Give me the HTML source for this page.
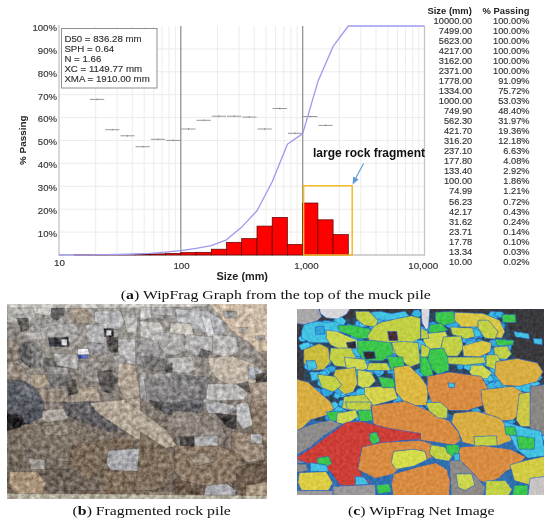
<!DOCTYPE html>
<html><head><meta charset="utf-8"><style>
html,body{margin:0;padding:0;background:#fff;}
svg{display:block;}
.st{font-family:"Liberation Sans",sans-serif;font-size:9.7px;fill:#333;stroke:#333;stroke-width:0.15px;}
.ax{font-family:"Liberation Sans",sans-serif;font-size:9.8px;fill:#333;stroke:#333;stroke-width:0.15px;}
.axy{font-family:"Liberation Sans",sans-serif;font-size:9.6px;fill:#333;stroke:#333;stroke-width:0.15px;}
.axb2{font-family:"Liberation Sans",sans-serif;font-size:10.2px;font-weight:bold;fill:#222;}
.axb{font-family:"Liberation Sans",sans-serif;font-size:9.4px;font-weight:bold;fill:#222;}
.tb{font-family:"Liberation Sans",sans-serif;font-size:9.6px;fill:#333;stroke:#333;stroke-width:0.15px;}
.ann{font-family:"Liberation Sans",sans-serif;font-size:12px;font-weight:bold;fill:#111;}
.cap{font-family:"Liberation Serif",serif;font-size:13px;fill:#111;}
</style></head><body>
<svg width="550" height="523" viewBox="0 0 550 523">
<rect width="550" height="523" fill="#fff"/>
<path d="M95.7 26V255.0 M117.1 26V255.0 M132.3 26V255.0 M144.2 26V255.0 M153.8 26V255.0 M162.0 26V255.0 M169.0 26V255.0 M175.3 26V255.0 M217.5 26V255.0 M239.0 26V255.0 M254.2 26V255.0 M266.0 26V255.0 M275.6 26V255.0 M283.8 26V255.0 M290.9 26V255.0 M297.1 26V255.0 M339.3 26V255.0 M360.8 26V255.0 M376.0 26V255.0 M387.8 26V255.0 M397.5 26V255.0 M405.6 26V255.0 M412.7 26V255.0 M418.9 26V255.0 M59.0 232.1H424.5 M59.0 209.2H424.5 M59.0 186.3H424.5 M59.0 163.4H424.5 M59.0 140.5H424.5 M59.0 117.6H424.5 M59.0 94.7H424.5 M59.0 71.8H424.5 M59.0 48.9H424.5" stroke="#ececec" stroke-width="1" fill="none"/>
<path d="M180.8 26V255.0 M302.7 26V255.0" stroke="#8a8a8a" stroke-width="1.2" fill="none"/>
<path d="M59.0 25V255.0H424.5V26" stroke="#c4c4c4" stroke-width="1.3" fill="none"/>
<g fill="#ff0000" stroke="#5a0000" stroke-width="0.7"><rect x="59.0" y="255.0" width="15.2" height="0.0"/><rect x="74.2" y="254.8" width="15.2" height="0.2"/><rect x="89.4" y="254.9" width="15.2" height="0.1"/><rect x="104.7" y="254.8" width="15.2" height="0.2"/><rect x="119.9" y="254.6" width="15.2" height="0.4"/><rect x="135.1" y="254.3" width="15.2" height="0.7"/><rect x="150.4" y="253.9" width="15.2" height="1.1"/><rect x="165.6" y="253.5" width="15.2" height="1.5"/><rect x="180.8" y="252.6" width="15.2" height="2.4"/><rect x="196.1" y="252.3" width="15.2" height="2.7"/><rect x="211.3" y="249.2" width="15.2" height="5.8"/><rect x="226.5" y="242.3" width="15.2" height="12.7"/><rect x="241.7" y="238.6" width="15.2" height="16.4"/><rect x="257.0" y="226.1" width="15.2" height="28.9"/><rect x="272.2" y="217.4" width="15.2" height="37.6"/><rect x="287.4" y="244.4" width="15.2" height="10.6"/><rect x="302.7" y="203.0" width="15.2" height="52.0"/><rect x="317.9" y="219.8" width="15.2" height="35.2"/><rect x="333.1" y="234.6" width="15.2" height="20.4"/></g>
<path d="M89.9 99.4H104.2M97.1 98.5V100.3M105.2 129.7H119.4M112.3 128.8V130.6M120.4 135.8H134.6M127.5 134.9V136.7M135.6 146.7H149.9M142.8 145.8V147.6M150.9 139.3H165.1M158.0 138.4V140.2M166.1 140.4H180.3M173.2 139.5V141.3M181.3 129.0H195.6M188.5 128.1V129.9M196.6 120.3H210.8M203.7 119.4V121.2M211.8 116.2H226.0M218.9 115.3V117.1M227.0 116.2H241.2M234.1 115.3V117.1M242.2 117.1H256.5M249.4 116.2V118.0M257.5 129.0H271.7M264.6 128.1V129.9M272.7 108.5H286.9M279.8 107.6V109.4M287.9 133.3H302.2M295.0 132.4V134.2M303.2 116.5H317.4M310.3 115.6V117.4M318.4 125.4H332.6M325.5 124.5V126.3" stroke="#8c8c8c" stroke-width="0.9" fill="none"/>
<path d="M59.0 255.0 L74.2 254.9 L89.4 254.8 L104.7 254.7 L119.9 254.5 L135.1 254.0 L150.4 253.4 L165.6 252.2 L180.8 250.7 L196.1 248.3 L211.3 245.7 L226.5 239.8 L241.7 227.1 L257.0 210.7 L272.2 181.8 L287.4 144.2 L302.7 133.6 L317.9 81.6 L333.1 46.4 L348.3 26.0 L363.6 26.0 L378.8 26.0 L394.0 26.0 L409.3 26.0 L424.5 26.0" stroke="#9f9aee" stroke-width="1.35" fill="none" stroke-linejoin="round"/>
<rect x="61.5" y="28.5" width="95.5" height="59.5" fill="#fff" stroke="#8f8f8f" stroke-width="1"/>
<text x="64.4" y="42.1" class="st">D50 = 836.28 mm</text>
<text x="64.4" y="52.0" class="st">SPH = 0.64</text>
<text x="64.4" y="62.0" class="st">N = 1.66</text>
<text x="64.4" y="72.0" class="st">XC = 1149.77 mm</text>
<text x="64.4" y="81.9" class="st">XMA = 1910.00 mm</text>
<text x="57.0" y="236.9" class="axy" text-anchor="end">10%</text>
<text x="57.0" y="214.0" class="axy" text-anchor="end">20%</text>
<text x="57.0" y="191.1" class="axy" text-anchor="end">30%</text>
<text x="57.0" y="168.2" class="axy" text-anchor="end">40%</text>
<text x="57.0" y="145.3" class="axy" text-anchor="end">50%</text>
<text x="57.0" y="122.4" class="axy" text-anchor="end">60%</text>
<text x="57.0" y="99.5" class="axy" text-anchor="end">70%</text>
<text x="57.0" y="76.6" class="axy" text-anchor="end">80%</text>
<text x="57.0" y="53.7" class="axy" text-anchor="end">90%</text>
<text x="57.0" y="31.2" class="axy" text-anchor="end">100%</text>
<text x="59.4" y="265.5" class="ax" text-anchor="middle">10</text>
<text x="181.6" y="269.2" class="ax" text-anchor="middle">100</text>
<text x="306.5" y="268.6" class="ax" text-anchor="middle">1,000</text>
<text x="423.2" y="268.6" class="ax" text-anchor="middle">10,000</text>
<text x="216.6" y="279.6" class="axb2" textLength="51.4" lengthAdjust="spacingAndGlyphs">Size (mm)</text>
<text transform="translate(25.6,140.2) rotate(-90)" class="axb2" text-anchor="middle" style="font-size:9.9px">% Passing</text>
<text x="471.8" y="13.8" class="axb" text-anchor="end">Size (mm)</text>
<text x="529.4" y="13.8" class="axb" text-anchor="end">% Passing</text>
<g class="tb" transform="translate(472.2,0) scale(0.965,1) translate(-472.2,0)"><text x="472.2" y="23.8" text-anchor="end">10000.00</text><text x="472.2" y="33.8" text-anchor="end">7499.00</text><text x="472.2" y="43.9" text-anchor="end">5623.00</text><text x="472.2" y="53.9" text-anchor="end">4217.00</text><text x="472.2" y="64.0" text-anchor="end">3162.00</text><text x="472.2" y="74.0" text-anchor="end">2371.00</text><text x="472.2" y="84.0" text-anchor="end">1778.00</text><text x="472.2" y="94.1" text-anchor="end">1334.00</text><text x="472.2" y="104.1" text-anchor="end">1000.00</text><text x="472.2" y="114.2" text-anchor="end">749.90</text><text x="472.2" y="124.2" text-anchor="end">562.30</text><text x="472.2" y="134.2" text-anchor="end">421.70</text><text x="472.2" y="144.3" text-anchor="end">316.20</text><text x="472.2" y="154.3" text-anchor="end">237.10</text><text x="472.2" y="164.4" text-anchor="end">177.80</text><text x="472.2" y="174.4" text-anchor="end">133.40</text><text x="472.2" y="184.4" text-anchor="end">100.00</text><text x="472.2" y="194.5" text-anchor="end">74.99</text><text x="472.2" y="204.5" text-anchor="end">56.23</text><text x="472.2" y="214.6" text-anchor="end">42.17</text><text x="472.2" y="224.6" text-anchor="end">31.62</text><text x="472.2" y="234.6" text-anchor="end">23.71</text><text x="472.2" y="244.7" text-anchor="end">17.78</text><text x="472.2" y="254.7" text-anchor="end">13.34</text><text x="472.2" y="264.8" text-anchor="end">10.00</text></g>
<g class="tb" transform="translate(529.6,0) scale(0.965,1) translate(-529.6,0)"><text x="529.6" y="23.8" text-anchor="end">100.00%</text><text x="529.6" y="33.8" text-anchor="end">100.00%</text><text x="529.6" y="43.9" text-anchor="end">100.00%</text><text x="529.6" y="53.9" text-anchor="end">100.00%</text><text x="529.6" y="64.0" text-anchor="end">100.00%</text><text x="529.6" y="74.0" text-anchor="end">100.00%</text><text x="529.6" y="84.0" text-anchor="end">91.09%</text><text x="529.6" y="94.1" text-anchor="end">75.72%</text><text x="529.6" y="104.1" text-anchor="end">53.03%</text><text x="529.6" y="114.2" text-anchor="end">48.40%</text><text x="529.6" y="124.2" text-anchor="end">31.97%</text><text x="529.6" y="134.2" text-anchor="end">19.36%</text><text x="529.6" y="144.3" text-anchor="end">12.18%</text><text x="529.6" y="154.3" text-anchor="end">6.63%</text><text x="529.6" y="164.4" text-anchor="end">4.08%</text><text x="529.6" y="174.4" text-anchor="end">2.92%</text><text x="529.6" y="184.4" text-anchor="end">1.86%</text><text x="529.6" y="194.5" text-anchor="end">1.21%</text><text x="529.6" y="204.5" text-anchor="end">0.72%</text><text x="529.6" y="214.6" text-anchor="end">0.43%</text><text x="529.6" y="224.6" text-anchor="end">0.24%</text><text x="529.6" y="234.6" text-anchor="end">0.14%</text><text x="529.6" y="244.7" text-anchor="end">0.10%</text><text x="529.6" y="254.7" text-anchor="end">0.03%</text><text x="529.6" y="264.8" text-anchor="end">0.02%</text></g>
<rect x="303.6" y="185.8" width="48.6" height="69.2" fill="none" stroke="#f2b92a" stroke-width="1.5"/>
<path d="M363.6 163.6 L355.5 178.5" stroke="#5b9bd5" stroke-width="1.1" fill="none"/>
<path d="M352.6 184.6 L353.2 176.6 L358.6 179.6 Z" fill="#5b9bd5"/>
<text x="313" y="156.6" class="ann">large rock fragment</text>
<text x="120.8" y="299.1" class="cap" textLength="310" lengthAdjust="spacingAndGlyphs">(<tspan font-weight="bold">a</tspan>) WipFrag Graph from the top of the muck pile</text>
<text x="72.6" y="514.5" class="cap" textLength="158.2" lengthAdjust="spacingAndGlyphs">(<tspan font-weight="bold">b</tspan>) Fragmented rock pile</text>
<text x="348.1" y="514.5" class="cap" textLength="146.4" lengthAdjust="spacingAndGlyphs">(<tspan font-weight="bold">c</tspan>) WipFrag Net Image</text>
<defs>
<filter id="texb" x="7" y="304" width="260" height="195" filterUnits="userSpaceOnUse" color-interpolation-filters="sRGB">
 <feTurbulence type="fractalNoise" baseFrequency="0.22" numOctaves="3" seed="4" result="t"/>
 <feColorMatrix in="t" type="matrix" values="1 0 0 0 0  1 0 0 0 0  1 0 0 0 0  0 0 0 0 1" result="g"/>
 <feGaussianBlur in="SourceGraphic" stdDeviation="0.6" result="b"/>
 <feComposite in="b" in2="g" operator="arithmetic" k1="0" k2="1" k3="0.5" k4="-0.25"/>
</filter>
<filter id="texc" x="297" y="309" width="247" height="186" filterUnits="userSpaceOnUse" color-interpolation-filters="sRGB">
 <feTurbulence type="fractalNoise" baseFrequency="0.3" numOctaves="2" seed="9" result="t"/>
 <feColorMatrix in="t" type="matrix" values="1 0 0 0 0  1 0 0 0 0  1 0 0 0 0  0 0 0 0 1" result="g"/>
 <feGaussianBlur in="SourceGraphic" stdDeviation="0.5" result="b"/>
 <feComposite in="b" in2="g" operator="arithmetic" k1="0" k2="1" k3="0.16" k4="-0.08"/>
</filter>
<clipPath id="cpb"><rect x="7" y="304" width="260" height="195"/></clipPath>
<clipPath id="cpc"><rect x="297" y="309" width="247" height="186"/></clipPath>
</defs><g clip-path="url(#cpb)"><g filter="url(#texb)"><g transform="translate(7,304) scale(0.47273,0.46988)"><defs><linearGradient id="bg_b" x1="0" y1="0" x2="0" y2="1"><stop offset="0" stop-color="#8e8a86"/><stop offset="0.45" stop-color="#827a72"/><stop offset="1" stop-color="#6e6258"/></linearGradient></defs><rect width="550" height="415" fill="url(#bg_b)"/><polygon points="-4,-4 50,-4 60,30 30,40 -4,30" fill="#a4a29e" stroke="#3c3834" stroke-width="1.6" stroke-opacity="0.35" stroke-linejoin="round"/><polygon points="50,-4 115,-4 110,20 85,25 60,20" fill="#c8c5c1" stroke="#3c3834" stroke-width="1.6" stroke-opacity="0.35" stroke-linejoin="round"/><polygon points="95,-4 125,-4 120,25 105,35 92,27" fill="#3e3c3c" stroke="#3c3834" stroke-width="1.6" stroke-opacity="0.35" stroke-linejoin="round"/><polygon points="130,5 165,10 185,30 175,45 145,40 130,25" fill="#8e8070" stroke="#3c3834" stroke-width="1.6" stroke-opacity="0.35" stroke-linejoin="round"/><polygon points="185,15 240,15 250,40 235,55 200,50 185,35" fill="#a8a8aa" stroke="#3c3834" stroke-width="1.6" stroke-opacity="0.35" stroke-linejoin="round"/><polygon points="245,25 276.4,30 273.7,65 255,60" fill="#b6b4b2" stroke="#3c3834" stroke-width="1.6" stroke-opacity="0.35" stroke-linejoin="round"/><polygon points="-4,40 30,45 40,70 20,80 -4,75" fill="#7e7a74" stroke="#3c3834" stroke-width="1.6" stroke-opacity="0.35" stroke-linejoin="round"/><polygon points="20,30 45,30 47,55 30,60" fill="#4a4644" stroke="#3c3834" stroke-width="1.6" stroke-opacity="0.35" stroke-linejoin="round"/><polygon points="50,35 95,30 115,45 105,65 70,65 50,55" fill="#8e8c8a" stroke="#3c3834" stroke-width="1.6" stroke-opacity="0.35" stroke-linejoin="round"/><polygon points="40,60 70,60 75,75 45,77" fill="#b0aca8" stroke="#3c3834" stroke-width="1.6" stroke-opacity="0.35" stroke-linejoin="round"/><polygon points="70,50 140,40 155,60 145,80 100,85 75,75" fill="#9c9a98" stroke="#3c3834" stroke-width="1.6" stroke-opacity="0.35" stroke-linejoin="round"/><polygon points="165,45 210,40 220,75 200,85 170,80" fill="#a6a6a8" stroke="#3c3834" stroke-width="1.6" stroke-opacity="0.35" stroke-linejoin="round"/><polygon points="210,70 235,70 240,100 220,105 212,90" fill="#3a3634" stroke="#3c3834" stroke-width="1.6" stroke-opacity="0.35" stroke-linejoin="round"/><polygon points="170,82 210,85 215,105 190,110 172,100" fill="#8c8a8c" stroke="#3c3834" stroke-width="1.6" stroke-opacity="0.35" stroke-linejoin="round"/><polygon points="235,75 271.7,75 271.7,130 250,125 235,105" fill="#b0aeae" stroke="#3c3834" stroke-width="1.6" stroke-opacity="0.35" stroke-linejoin="round"/><polygon points="225,110 250,110 255,130 230,135" fill="#9a9898" stroke="#3c3834" stroke-width="1.6" stroke-opacity="0.35" stroke-linejoin="round"/><polygon points="-4,75 30,80 25,120 -4,125" fill="#7a6e62" stroke="#3c3834" stroke-width="1.6" stroke-opacity="0.35" stroke-linejoin="round"/><polygon points="30,82 60,80 75,100 70,135 50,137 30,120 25,100" fill="#767472" stroke="#3c3834" stroke-width="1.6" stroke-opacity="0.35" stroke-linejoin="round"/><polygon points="30,82 48,81 52,110 50,137 30,120 25,100" fill="#4e4c4c" stroke="#3c3834" stroke-width="1.6" stroke-opacity="0.35" stroke-linejoin="round"/><polygon points="100,105 145,107 160,130 150,140 110,132 97,120" fill="#a4a2a0" stroke="#3c3834" stroke-width="1.6" stroke-opacity="0.35" stroke-linejoin="round"/><polygon points="75,115 100,115 105,140 80,145" fill="#5a5654" stroke="#3c3834" stroke-width="1.6" stroke-opacity="0.35" stroke-linejoin="round"/><polygon points="150,120 210,125 225,150 205,170 170,165 150,145" fill="#8a8480" stroke="#3c3834" stroke-width="1.6" stroke-opacity="0.35" stroke-linejoin="round"/><polygon points="190,145 220,140 235,165 220,190 200,185" fill="#4e4a48" stroke="#3c3834" stroke-width="1.6" stroke-opacity="0.35" stroke-linejoin="round"/><polygon points="235,125 271.7,130 281.8,199.4 250,205.2 235,175" fill="#a89a8a" stroke="#3c3834" stroke-width="1.6" stroke-opacity="0.35" stroke-linejoin="round"/><polygon points="-4,125 30,130 50,150 40,165 10,170 -4,160" fill="#8a7e70" stroke="#3c3834" stroke-width="1.6" stroke-opacity="0.35" stroke-linejoin="round"/><polygon points="85,130 130,135 140,165 125,185 95,180 85,155" fill="#6e6a6a" stroke="#3c3834" stroke-width="1.6" stroke-opacity="0.35" stroke-linejoin="round"/><polygon points="88,132 128,136 132,150 90,150" fill="#8a8686" stroke="#3c3834" stroke-width="1.6" stroke-opacity="0.35" stroke-linejoin="round"/><polygon points="50,150 80,150 90,170 65,180 50,170" fill="#a89882" stroke="#3c3834" stroke-width="1.6" stroke-opacity="0.35" stroke-linejoin="round"/><polygon points="-4,160 30,165 55,190 55,208.4 -4,212.4" fill="#5a5a5e" stroke="#3c3834" stroke-width="1.6" stroke-opacity="0.35" stroke-linejoin="round"/><polygon points="55,180 120,180 135,209.3 55,208.4" fill="#8e8274" stroke="#3c3834" stroke-width="1.6" stroke-opacity="0.35" stroke-linejoin="round"/><polygon points="135,180 190,175 200,207.5 135,209.3" fill="#a09282" stroke="#3c3834" stroke-width="1.6" stroke-opacity="0.35" stroke-linejoin="round"/><polygon points="125,165 145,160 150,190 130,195" fill="#4a4440" stroke="#3c3834" stroke-width="1.6" stroke-opacity="0.35" stroke-linejoin="round"/><polygon points="87,72 130,70 132,92 90,90" fill="#24242c" stroke="#3c3834" stroke-width="1.6" stroke-opacity="0.35" stroke-linejoin="round"/><polygon points="115,75 127,75 127,88 115,88" fill="#dcdce2" stroke="#3c3834" stroke-width="1.6" stroke-opacity="0.35" stroke-linejoin="round"/><polygon points="205,52 225,52 226,70 206,70" fill="#1e1e26" stroke="#3c3834" stroke-width="1.6" stroke-opacity="0.35" stroke-linejoin="round"/><polygon points="210,56 221,56 221,67 210,67" fill="#dcdce2" stroke="#3c3834" stroke-width="1.6" stroke-opacity="0.35" stroke-linejoin="round"/><polygon points="150,95 172,95 174,107 150,109" fill="#eeeff4" stroke="#3c3834" stroke-width="1.6" stroke-opacity="0.35" stroke-linejoin="round"/><polygon points="150,108 172,108 170,116 152,116" fill="#2c40a0" stroke="#3c3834" stroke-width="1.6" stroke-opacity="0.35" stroke-linejoin="round"/><polygon points="281.7,-4 305,-4 305,30 281.5,35" fill="#b8b6b4" stroke="#3c3834" stroke-width="1.6" stroke-opacity="0.35" stroke-linejoin="round"/><polygon points="425,-4 554,-4 554,115 535,105 510,80 485,65 465,45 450,25" fill="#c2ae96" stroke="#3c3834" stroke-width="1.6" stroke-opacity="0.35" stroke-linejoin="round"/><polygon points="457,15 485,15 487,30 460,30" fill="#8a8888" stroke="#3c3834" stroke-width="1.6" stroke-opacity="0.35" stroke-linejoin="round"/><polygon points="490,50 510,50 510,62 492,62" fill="#a09890" stroke="#3c3834" stroke-width="1.6" stroke-opacity="0.35" stroke-linejoin="round"/><polygon points="525,67 545,67 545,77 527,77" fill="#9a9490" stroke="#3c3834" stroke-width="1.6" stroke-opacity="0.35" stroke-linejoin="round"/><polygon points="305,5 350,7 352,30 325,35 305,25" fill="#a6a4a4" stroke="#3c3834" stroke-width="1.6" stroke-opacity="0.35" stroke-linejoin="round"/><polygon points="305,22 352,25 325,35" fill="#7a7878" stroke="#3c3834" stroke-width="1.6" stroke-opacity="0.35" stroke-linejoin="round"/><polygon points="355,10 425,15 455,35 460,60 440,70 415,60 385,50 360,35" fill="#a8aaae" stroke="#3c3834" stroke-width="1.6" stroke-opacity="0.35" stroke-linejoin="round"/><polygon points="410,25 430,30 440,70 425,70" fill="#d0d0d4" stroke="#3c3834" stroke-width="1.6" stroke-opacity="0.35" stroke-linejoin="round"/><polygon points="281.5,35 325,40 335,65 315,85 285,85 282.1,70" fill="#b4b2ae" stroke="#3c3834" stroke-width="1.6" stroke-opacity="0.35" stroke-linejoin="round"/><polygon points="345,40 390,42 395,65 365,70 345,60" fill="#c4beb4" stroke="#3c3834" stroke-width="1.6" stroke-opacity="0.35" stroke-linejoin="round"/><polygon points="325,60 375,65 380,100 355,110 330,105 320,85" fill="#a09e9c" stroke="#3c3834" stroke-width="1.6" stroke-opacity="0.35" stroke-linejoin="round"/><polygon points="380,65 435,70 435,100 415,110 385,107 375,90" fill="#a8a6a6" stroke="#3c3834" stroke-width="1.6" stroke-opacity="0.35" stroke-linejoin="round"/><polygon points="410,95 430,100 425,115 405,112" fill="#4a4848" stroke="#3c3834" stroke-width="1.6" stroke-opacity="0.35" stroke-linejoin="round"/><polygon points="435,65 485,70 490,100 465,115 435,105" fill="#b0aeac" stroke="#3c3834" stroke-width="1.6" stroke-opacity="0.35" stroke-linejoin="round"/><polygon points="425,115 475,110 515,125 540,140 540,160 515,170 475,175 445,160 430,140" fill="#b8ac9c" stroke="#3c3834" stroke-width="1.6" stroke-opacity="0.35" stroke-linejoin="round"/><polygon points="510,130 540,140 535,160 510,160" fill="#a0a4aa" stroke="#3c3834" stroke-width="1.6" stroke-opacity="0.35" stroke-linejoin="round"/><polygon points="525,150 554,145 554,180 530,185" fill="#3e3a38" stroke="#3c3834" stroke-width="1.6" stroke-opacity="0.35" stroke-linejoin="round"/><polygon points="540,100 554,100 554,145 540,140" fill="#8a7a6a" stroke="#3c3834" stroke-width="1.6" stroke-opacity="0.35" stroke-linejoin="round"/><polygon points="282.1,70 305,75 335,105 340,140 315,145 290,135 272.5,125" fill="#8e8c8c" stroke="#3c3834" stroke-width="1.6" stroke-opacity="0.35" stroke-linejoin="round"/><polygon points="280,110 330,115 340,140 315,145 290,135" fill="#6a6866" stroke="#3c3834" stroke-width="1.6" stroke-opacity="0.35" stroke-linejoin="round"/><polygon points="340,115 390,112 400,140 375,150 345,145" fill="#b0aeac" stroke="#3c3834" stroke-width="1.6" stroke-opacity="0.35" stroke-linejoin="round"/><polygon points="335,130 350,125 350,150 337,150" fill="#4a4646" stroke="#3c3834" stroke-width="1.6" stroke-opacity="0.35" stroke-linejoin="round"/><polygon points="278.9,140 300,150 305,212.0 281.8,199.4" fill="#9a9898" stroke="#3c3834" stroke-width="1.6" stroke-opacity="0.35" stroke-linejoin="round"/><polygon points="295,150 355,145 400,150 425,165 425,210.5 295,206.7" fill="#8e8a88" stroke="#3c3834" stroke-width="1.6" stroke-opacity="0.35" stroke-linejoin="round"/><polygon points="350,150 425,155 425,210.5 355,209.0" fill="#6e6c6e" stroke="#3c3834" stroke-width="1.6" stroke-opacity="0.35" stroke-linejoin="round"/><polygon points="425,170 485,170 510,190 500,203.6 420,207.2" fill="#b4b2b0" stroke="#3c3834" stroke-width="1.6" stroke-opacity="0.35" stroke-linejoin="round"/><polygon points="510,170 554,165 554,201.7 510,210.3" fill="#a09080" stroke="#3c3834" stroke-width="1.6" stroke-opacity="0.35" stroke-linejoin="round"/><polygon points="485,170 510,165 515,190" fill="#4a4440" stroke="#3c3834" stroke-width="1.6" stroke-opacity="0.35" stroke-linejoin="round"/><polygon points="-4,160 35,163 65,185 80,215 75,240 45,255 -4,262" fill="#50535a" stroke="#3c3834" stroke-width="1.6" stroke-opacity="0.35" stroke-linejoin="round"/><polygon points="20,175 40,172 60,190 50,200" fill="#6a6e76" stroke="#3c3834" stroke-width="1.6" stroke-opacity="0.35" stroke-linejoin="round"/><polygon points="-4,232 30,237 40,257 15,272 -4,272" fill="#201e20" stroke="#3c3834" stroke-width="1.6" stroke-opacity="0.35" stroke-linejoin="round"/><polygon points="75,227 125,222 130,242 100,257 75,247" fill="#a8a29a" stroke="#3c3834" stroke-width="1.6" stroke-opacity="0.35" stroke-linejoin="round"/><polygon points="190,208.1 281.8,199.4 282.4,272 240,267 210,232" fill="#a09484" stroke="#3c3834" stroke-width="1.6" stroke-opacity="0.35" stroke-linejoin="round"/><polygon points="115,208.6 190,208.1 235,237 250,267 215,272 165,252 125,237" fill="#5e5c5e" stroke="#3c3834" stroke-width="1.6" stroke-opacity="0.35" stroke-linejoin="round"/><polygon points="-4,272 30,262 40,307 30,337 -4,342" fill="#7a7064" stroke="#3c3834" stroke-width="1.6" stroke-opacity="0.35" stroke-linejoin="round"/><polygon points="30,257 125,247 165,262 200,282 210,307 165,317 140,337 100,332 60,317 30,297" fill="#7e7468" stroke="#3c3834" stroke-width="1.6" stroke-opacity="0.35" stroke-linejoin="round"/><polygon points="70,262 120,255 150,268 120,280 80,278" fill="#8e8678" stroke="#3c3834" stroke-width="1.6" stroke-opacity="0.35" stroke-linejoin="round"/><polygon points="140,297 225,287 265.5,282 270.1,312 215,317 200,357 165,377 140,367 130,342" fill="#7c6c5c" stroke="#3c3834" stroke-width="1.6" stroke-opacity="0.35" stroke-linejoin="round"/><polygon points="215,312 280.9,307 284.5,357 220,357 210,337" fill="#a8a8ac" stroke="#3c3834" stroke-width="1.6" stroke-opacity="0.35" stroke-linejoin="round"/><polygon points="200,352 284.5,357 268.4,419 210,419 200,382" fill="#7e6c5a" stroke="#3c3834" stroke-width="1.6" stroke-opacity="0.35" stroke-linejoin="round"/><polygon points="45,327 80,332 80,352 50,352" fill="#9e9a94" stroke="#3c3834" stroke-width="1.6" stroke-opacity="0.35" stroke-linejoin="round"/><polygon points="65,352 150,352 165,377 150,397 100,397 75,377" fill="#6e645a" stroke="#3c3834" stroke-width="1.6" stroke-opacity="0.35" stroke-linejoin="round"/><polygon points="-4,337 20,337 20,407 -4,407" fill="#6e665c" stroke="#3c3834" stroke-width="1.6" stroke-opacity="0.35" stroke-linejoin="round"/><polygon points="5,357 65,357 82,382 75,405 20,405 5,387" fill="#a8927a" stroke="#3c3834" stroke-width="1.6" stroke-opacity="0.35" stroke-linejoin="round"/><polygon points="150,397 210,397 210,419 150,419" fill="#7a6a5c" stroke="#3c3834" stroke-width="1.6" stroke-opacity="0.35" stroke-linejoin="round"/><polygon points="290,160 408,160 408,221 360,232 317,226 296,204" fill="#7c7a7a" stroke="#3c3834" stroke-width="1.6" stroke-opacity="0.35" stroke-linejoin="round"/><polygon points="300,205 360,215 400,212 360,232 317,226" fill="#4e4a48" stroke="#3c3834" stroke-width="1.6" stroke-opacity="0.35" stroke-linejoin="round"/><polygon points="343,228 408,221 408,298 366,291 349,270" fill="#8a8886" stroke="#3c3834" stroke-width="1.6" stroke-opacity="0.35" stroke-linejoin="round"/><polygon points="176,211 246,204 290,232 338,270 360,302 328,308 273,286 247,270 192,232" fill="#b0a494" stroke="#3c3834" stroke-width="1.6" stroke-opacity="0.35" stroke-linejoin="round"/><polygon points="325,212.4 415,201.7 415,227 375,242 330,232" fill="#5a5a5e" stroke="#3c3834" stroke-width="1.6" stroke-opacity="0.35" stroke-linejoin="round"/><polygon points="415,201.7 475,214.4 490,222 465,237 425,232" fill="#a8a8aa" stroke="#3c3834" stroke-width="1.6" stroke-opacity="0.35" stroke-linejoin="round"/><polygon points="515,207.8 554,201.7 554,307 520,282" fill="#8a7868" stroke="#3c3834" stroke-width="1.6" stroke-opacity="0.35" stroke-linejoin="round"/><polygon points="485,212 510,210.3 520,257 500,267 485,247" fill="#b8b8ba" stroke="#3c3834" stroke-width="1.6" stroke-opacity="0.35" stroke-linejoin="round"/><polygon points="440,232 485,237 485,267 465,262" fill="#3e3a3a" stroke="#3c3834" stroke-width="1.6" stroke-opacity="0.35" stroke-linejoin="round"/><polygon points="355,227 415,232 455,257 465,287 445,307 400,307 365,302 350,272 340,247" fill="#8c847c" stroke="#3c3834" stroke-width="1.6" stroke-opacity="0.35" stroke-linejoin="round"/><polygon points="395,282 445,280 447,305 397,307" fill="#acacac" stroke="#3c3834" stroke-width="1.6" stroke-opacity="0.35" stroke-linejoin="round"/><polygon points="365,282 395,282 397,307 367,307" fill="#4a4646" stroke="#3c3834" stroke-width="1.6" stroke-opacity="0.35" stroke-linejoin="round"/><polygon points="475,272 540,277 545,332 505,337 475,307" fill="#9a8878" stroke="#3c3834" stroke-width="1.6" stroke-opacity="0.35" stroke-linejoin="round"/><polygon points="515,277 540,277 540,297 515,297" fill="#b0b0b2" stroke="#3c3834" stroke-width="1.6" stroke-opacity="0.35" stroke-linejoin="round"/><polygon points="282.4,272 335,307 365,327 355,357 340,387 305,397 272.3,397" fill="#7e6e5e" stroke="#3c3834" stroke-width="1.6" stroke-opacity="0.35" stroke-linejoin="round"/><polygon points="355,302 450,302 495,322 500,357 475,387 425,392 375,382 355,357" fill="#8a7866" stroke="#3c3834" stroke-width="1.6" stroke-opacity="0.35" stroke-linejoin="round"/><polygon points="380,320 430,315 440,335 400,345" fill="#96887a" stroke="#3c3834" stroke-width="1.6" stroke-opacity="0.35" stroke-linejoin="round"/><polygon points="485,347 554,332 554,419 495,419 485,382" fill="#6e5e50" stroke="#3c3834" stroke-width="1.6" stroke-opacity="0.35" stroke-linejoin="round"/><polygon points="505,385 554,378 554,419 505,419" fill="#a89882" stroke="#3c3834" stroke-width="1.6" stroke-opacity="0.35" stroke-linejoin="round"/><polygon points="355,372 420,387 420,419 355,419" fill="#6a5a4c" stroke="#3c3834" stroke-width="1.6" stroke-opacity="0.35" stroke-linejoin="round"/><polygon points="420,387 465,382 485,397 480,419 415,419" fill="#a8a8ac" stroke="#3c3834" stroke-width="1.6" stroke-opacity="0.35" stroke-linejoin="round"/><polygon points="272.3,397 355,400 355,419 268.4,419" fill="#8a7c6c" stroke="#3c3834" stroke-width="1.6" stroke-opacity="0.35" stroke-linejoin="round"/><polygon points="-4,403 280.4,405 554,408 554,419 -4,419" fill="#b6ae9e" stroke="#3c3834" stroke-width="1.6" stroke-opacity="0.35" stroke-linejoin="round"/><polygon points="-4,-4 430,-4 420,6 200,9 -4,8" fill="#c2beb8" stroke="#3c3834" stroke-width="1.6" stroke-opacity="0.35" stroke-linejoin="round"/><defs><linearGradient id="ov_b" x1="0" y1="0" x2="0" y2="1"><stop offset="0" stop-color="#fff" stop-opacity="0.16"/><stop offset="0.5" stop-color="#fff" stop-opacity="0.06"/><stop offset="0.62" stop-color="#fff" stop-opacity="0"/></linearGradient></defs><rect x="-5" y="-5" width="560" height="425" fill="url(#ov_b)"/></g></g></g>
<g clip-path="url(#cpc)"><g filter="url(#texc)"><g transform="translate(297,309) scale(0.44909,0.44928)"><polygon points="-4,-4 554,-4 554,419 -4,419" fill="#3a393e"/><polygon points="20,200 200,190 460,200 554,260 554,419 -4,419 -4,280" fill="#2f6fae"/><polygon points="12,30 120,20 240,8 460,10 478,60 485,108 530,118 554,175 554,330 500,335 460,250 300,230 160,240 100,250 40,250 15,160 12,60" fill="#30485a"/><polygon points="234.4,193.0 240.5,181.6 253.5,177.4 260.1,188.0 256.6,200.4 244.0,198.8" fill="#44c8e4" stroke="#2a62c8" stroke-width="1.4" stroke-linejoin="round"/><polygon points="535.8,230.9 526.3,229.9 519.7,222.8 523.8,214.2 537.3,213.2 544.2,221.7" fill="#3cc2e0" stroke="#2a62c8" stroke-width="1.4" stroke-linejoin="round"/><polygon points="269.4,94.2 258.7,103.4 245.2,102.9 234.2,94.9 242.1,84.9 260.4,81.9" fill="#3cc2e0" stroke="#2a62c8" stroke-width="1.4" stroke-linejoin="round"/><polygon points="16.8,132.0 16.4,122.7 29.0,119.8 39.8,121.4 38.0,133.7 28.6,138.1" fill="#44c8e4" stroke="#2a62c8" stroke-width="1.4" stroke-linejoin="round"/><polygon points="102.4,197.1 90.0,195.9 86.8,189.0 94.0,179.5 106.0,183.7 111.4,191.3" fill="#44c8e4" stroke="#2a62c8" stroke-width="1.4" stroke-linejoin="round"/><polygon points="554,207.2 554,214.8 537.4,211.3 538.4,202.5 544.3,197.6 554,197.2" fill="#36b6de" stroke="#2a62c8" stroke-width="1.4" stroke-linejoin="round"/><polygon points="534.4,158.4 542.2,166.8 530.9,172.3 518.3,173.6 517.3,162.0 522.8,154.6" fill="#44c8e4" stroke="#2a62c8" stroke-width="1.4" stroke-linejoin="round"/><polygon points="25.6,46.1 16.0,42.6 16.0,32.0 26.5,25.1 34.5,32.6 37.1,42.4" fill="#3cc2e0" stroke="#2a62c8" stroke-width="1.4" stroke-linejoin="round"/><polygon points="151.8,158.2 144.1,157.1 137.3,151.0 143.7,144.5 153.2,146.7 154.8,151.8" fill="#2ea6da" stroke="#2a62c8" stroke-width="1.4" stroke-linejoin="round"/><polygon points="53.6,178.7 55.6,191.0 42.7,197.4 28.2,193.3 29.6,180.7 39.7,174.6" fill="#3ab0dc" stroke="#2a62c8" stroke-width="1.4" stroke-linejoin="round"/><polygon points="370.3,131.3 364.8,135.5 357.7,133.7 355.7,126.0 363.6,121.9 371.5,125.0" fill="#2ea6da" stroke="#2a62c8" stroke-width="1.4" stroke-linejoin="round"/><polygon points="327.5,155.4 338.8,158.2 338.1,164.9 334.3,170.0 325.2,170.9 320.0,162.0" fill="#36b6de" stroke="#2a62c8" stroke-width="1.4" stroke-linejoin="round"/><polygon points="169.4,230.5 170.1,222.2 180.7,219.3 187.1,223.1 189.4,231.8 178.9,236.1" fill="#2ea6da" stroke="#2a62c8" stroke-width="1.4" stroke-linejoin="round"/><polygon points="464.3,34.4 461.9,43.9 451.3,49.4 440.9,42.2 440.5,33.9 452.7,28.2" fill="#2ea6da" stroke="#2a62c8" stroke-width="1.4" stroke-linejoin="round"/><polygon points="324.9,106.4 317.9,117.0 306.7,112.2 303.4,103.7 308.5,94.2 322.8,94.8" fill="#3cc2e0" stroke="#2a62c8" stroke-width="1.4" stroke-linejoin="round"/><polygon points="380.2,76.1 369.1,74.2 366.2,67.1 370.8,59.3 383.4,59.0 387.5,68.6" fill="#36b6de" stroke="#2a62c8" stroke-width="1.4" stroke-linejoin="round"/><polygon points="387.4,38.0 400.4,33.5 410.2,41.2 405.3,51.2 394.8,54.2 384.3,46.8" fill="#3cc2e0" stroke="#2a62c8" stroke-width="1.4" stroke-linejoin="round"/><polygon points="462.0,121.5 463.6,115.1 472.3,112.9 480.5,116.3 477.2,123.7 469.6,124.4" fill="#3ab0dc" stroke="#2a62c8" stroke-width="1.4" stroke-linejoin="round"/><polygon points="480.7,180.2 484.1,168.8 497.1,165.5 509.6,172.2 503.8,182.7 493.0,185.2" fill="#44c8e4" stroke="#2a62c8" stroke-width="1.4" stroke-linejoin="round"/><polygon points="521.7,305.5 514.2,297.7 517.3,289.7 528.2,286.9 537.8,294.4 535.1,303.7" fill="#3ab0dc" stroke="#2a62c8" stroke-width="1.4" stroke-linejoin="round"/><polygon points="75.6,27.7 76.2,35.9 66.4,39.4 59.1,35.7 57.3,26.3 67.9,25.6" fill="#44c8e4" stroke="#2a62c8" stroke-width="1.4" stroke-linejoin="round"/><polygon points="9.0,59.1 19.0,60.9 23.7,66.8 16.5,72.4 7.4,72.5 2.9,65.1" fill="#44c8e4" stroke="#2a62c8" stroke-width="1.4" stroke-linejoin="round"/><polygon points="461.9,203.1 464.0,211.2 458.0,216.8 444.2,217.2 442.9,207.9 449.6,198.3" fill="#36b6de" stroke="#2a62c8" stroke-width="1.4" stroke-linejoin="round"/><polygon points="128.4,37.3 131.4,26.5 143.0,23.5 156.3,26.5 157.7,37.7 142.3,45.8" fill="#3ab0dc" stroke="#2a62c8" stroke-width="1.4" stroke-linejoin="round"/><polygon points="442.2,155.5 449.3,161.4 447.3,167.1 441.1,170.1 433.0,167.1 435.7,159.6" fill="#3cc2e0" stroke="#2a62c8" stroke-width="1.4" stroke-linejoin="round"/><polygon points="409.4,110.2 417.0,101.7 428.6,104.8 431.9,112.1 425.2,118.2 415.1,118.8" fill="#3cc2e0" stroke="#2a62c8" stroke-width="1.4" stroke-linejoin="round"/><polygon points="190.2,19.0 192.2,31.3 181.9,38.9 166.7,35.9 167.1,25.5 175.0,15.4" fill="#36b6de" stroke="#2a62c8" stroke-width="1.4" stroke-linejoin="round"/><polygon points="494.7,289.2 506.5,295.8 502.9,305.2 492.1,308.8 480.2,303.7 483.9,291.5" fill="#2ea6da" stroke="#2a62c8" stroke-width="1.4" stroke-linejoin="round"/><polygon points="174.4,221.8 181.7,214.0 195.1,215.1 194.8,226.4 190.2,232.5 178.0,229.9" fill="#36b6de" stroke="#2a62c8" stroke-width="1.4" stroke-linejoin="round"/><polygon points="132.2,91.5 138.8,87.2 149.6,87.1 153.0,96.1 145.8,101.6 132.9,99.6" fill="#36b6de" stroke="#2a62c8" stroke-width="1.4" stroke-linejoin="round"/><polygon points="459.3,188.1 460.9,179.1 471.6,174.4 480.5,179.0 481.8,190.7 469.9,195.7" fill="#3ab0dc" stroke="#2a62c8" stroke-width="1.4" stroke-linejoin="round"/><polygon points="10.9,61.1 13.8,48.5 20.7,44.9 36.2,46.6 36.1,57.9 25.5,64.1" fill="#44c8e4" stroke="#2a62c8" stroke-width="1.4" stroke-linejoin="round"/><polygon points="128.7,244.4 127.7,237.3 134.9,234.4 142.2,236.4 143.1,244.1 134.9,248.2" fill="#36b6de" stroke="#2a62c8" stroke-width="1.4" stroke-linejoin="round"/><polygon points="533.2,255.8 521.9,257.0 515.5,252.6 516.0,244.1 526.0,240.6 532.0,247.3" fill="#36b6de" stroke="#2a62c8" stroke-width="1.4" stroke-linejoin="round"/><polygon points="27.0,85.6 35.6,85.2 45.4,89.6 42.2,98.0 30.7,99.6 23.4,94.9" fill="#3cc2e0" stroke="#2a62c8" stroke-width="1.4" stroke-linejoin="round"/><polygon points="449.6,142.8 457.1,152.4 446.7,160.1 432.6,162.1 428.8,151.8 433.4,143.9" fill="#2ea6da" stroke="#2a62c8" stroke-width="1.4" stroke-linejoin="round"/><polygon points="309.4,154.7 316.2,149.0 328.3,152.6 328.6,159.9 322.2,166.2 311.7,163.9" fill="#2ea6da" stroke="#2a62c8" stroke-width="1.4" stroke-linejoin="round"/><polygon points="154.1,41.7 165.1,42.9 168.0,52.5 157.7,56.9 145.7,53.5 146.4,45.6" fill="#3ab0dc" stroke="#2a62c8" stroke-width="1.4" stroke-linejoin="round"/><polygon points="129.8,129.2 127.5,121.3 132.4,114.5 145.0,116.1 145.5,124.8 141.0,130.3" fill="#3cc2e0" stroke="#2a62c8" stroke-width="1.4" stroke-linejoin="round"/><polygon points="91.8,94.5 95.1,100.9 90.9,106.1 83.5,105.9 80.8,100.2 84.1,93.4" fill="#44c8e4" stroke="#2a62c8" stroke-width="1.4" stroke-linejoin="round"/><polygon points="119.6,73.6 130.3,62.4 144.1,66.3 148.8,76.6 140.8,87.2 127.1,85.1" fill="#2ea6da" stroke="#2a62c8" stroke-width="1.4" stroke-linejoin="round"/><polygon points="523.3,208.8 535.0,212.2 539.9,220.9 529.6,225.4 519.6,224.2 516.4,214.5" fill="#3cc2e0" stroke="#2a62c8" stroke-width="1.4" stroke-linejoin="round"/><polygon points="181.1,48.3 179.7,59.3 167.3,62.7 155.4,59.4 153.3,47.4 166.4,41.5" fill="#2ea6da" stroke="#2a62c8" stroke-width="1.4" stroke-linejoin="round"/><polygon points="498.8,209.5 512.6,198.7 527.5,204.0 526.6,217.4 518.5,223.0 506.7,222.3" fill="#3ab0dc" stroke="#2a62c8" stroke-width="1.4" stroke-linejoin="round"/><polygon points="446.9,10.7 446.6,23.3 435.4,33.6 422.3,28.2 422.1,14.6 430.5,10.3" fill="#3ab0dc" stroke="#2a62c8" stroke-width="1.4" stroke-linejoin="round"/><polygon points="147.5,172.9 157.0,178.3 152.5,185.8 145.3,187.7 137.9,184.7 137.1,176.9" fill="#3ab0dc" stroke="#2a62c8" stroke-width="1.4" stroke-linejoin="round"/><polygon points="122.4,192.0 109.8,191.4 103.8,185.3 107.2,177.3 120.5,177.9 126.0,184.2" fill="#3cc2e0" stroke="#2a62c8" stroke-width="1.4" stroke-linejoin="round"/><polygon points="145.2,192.5 135.0,200.6 124.9,199.0 118.8,191.3 125.9,184.0 137.6,185.1" fill="#36b6de" stroke="#2a62c8" stroke-width="1.4" stroke-linejoin="round"/><polygon points="205.6,46.3 197.5,40.2 200.5,31.6 208.4,28.3 215.3,34.6 213.4,42.4" fill="#3cc2e0" stroke="#2a62c8" stroke-width="1.4" stroke-linejoin="round"/><polygon points="434.3,111.9 433.7,123.0 423.3,129.8 410.8,121.8 411.8,110.6 425.1,106.5" fill="#3ab0dc" stroke="#2a62c8" stroke-width="1.4" stroke-linejoin="round"/><polygon points="288.1,96.2 283.3,89.8 285.9,83.9 295.2,82.2 301.3,87.5 296.8,95.0" fill="#3ab0dc" stroke="#2a62c8" stroke-width="1.4" stroke-linejoin="round"/><polygon points="61.2,241.2 72.7,229.0 87.4,234.3 89.7,243.6 84.5,254.7 70.0,254.6" fill="#2ea6da" stroke="#2a62c8" stroke-width="1.4" stroke-linejoin="round"/><polygon points="144.9,196.7 133.0,205.3 122.4,198.4 117.5,190.8 129.6,184.6 142.3,188.1" fill="#36b6de" stroke="#2a62c8" stroke-width="1.4" stroke-linejoin="round"/><polygon points="109.4,188.1 105.6,193.7 96.7,192.2 92.1,184.9 99.0,178.3 106.5,181.7" fill="#44c8e4" stroke="#2a62c8" stroke-width="1.4" stroke-linejoin="round"/><polygon points="71.4,145.7 62.6,147.4 53.3,140.1 58.1,131.6 67.6,130.4 77.8,135.6" fill="#3ab0dc" stroke="#2a62c8" stroke-width="1.4" stroke-linejoin="round"/><polygon points="235.3,141.9 235.7,152.7 225.8,155.1 213.6,154.3 212.5,143.1 223.9,138.7" fill="#3ab0dc" stroke="#2a62c8" stroke-width="1.4" stroke-linejoin="round"/><polygon points="478.4,80.8 475.6,91.4 459.1,95.7 447.5,85.0 454.0,71.9 468.9,71.3" fill="#3ab0dc" stroke="#2a62c8" stroke-width="1.4" stroke-linejoin="round"/><polygon points="427.9,71.9 441.2,66.8 454.0,67.5 452.0,79.2 444.2,85.2 434.5,83.1" fill="#3ab0dc" stroke="#2a62c8" stroke-width="1.4" stroke-linejoin="round"/><polygon points="227.5,124.6 221.1,130.9 207.4,129.8 206.7,118.8 215.9,109.4 229.4,115.4" fill="#2ea6da" stroke="#2a62c8" stroke-width="1.4" stroke-linejoin="round"/><polygon points="319.9,178.5 314.7,187.5 305.4,188.2 298.7,184.3 301.0,174.6 310.2,173.7" fill="#36b6de" stroke="#2a62c8" stroke-width="1.4" stroke-linejoin="round"/><polygon points="126.4,113.1 113.4,113.7 110.6,102.3 117.5,93.9 130.2,97.2 138.8,106.5" fill="#2ea6da" stroke="#2a62c8" stroke-width="1.4" stroke-linejoin="round"/><polygon points="85.5,230.4 73.5,233.9 62.7,232.2 63.0,222.6 72.5,215.4 81.1,222.9" fill="#3ab0dc" stroke="#2a62c8" stroke-width="1.4" stroke-linejoin="round"/><polygon points="271.1,1.5 277.7,10.5 271.8,19.0 262.1,18.1 254.5,11.2 261.0,3.0" fill="#36b6de" stroke="#2a62c8" stroke-width="1.4" stroke-linejoin="round"/><polygon points="132.9,179.2 145.0,176.4 155.6,179.7 153.1,192.2 141.0,198.1 129.7,190.0" fill="#3cc2e0" stroke="#2a62c8" stroke-width="1.4" stroke-linejoin="round"/><polygon points="313.8,194.6 304.2,190.3 299.6,179.9 312.0,173.2 321.8,177.4 323.2,188.8" fill="#36b6de" stroke="#2a62c8" stroke-width="1.4" stroke-linejoin="round"/><polygon points="262.4,226.8 263.3,216.4 276.9,216.2 286.9,221.1 280.6,231.8 270.3,236.3" fill="#3cc2e0" stroke="#2a62c8" stroke-width="1.4" stroke-linejoin="round"/><polygon points="70.6,136.5 66.7,128.4 78.4,126.4 86.0,129.6 85.5,138.0 77.3,141.4" fill="#2ea6da" stroke="#2a62c8" stroke-width="1.4" stroke-linejoin="round"/><polygon points="526.1,322.4 515.3,321.2 508.4,314.3 514.0,308.3 526.0,305.2 529.0,313.6" fill="#3cc2e0" stroke="#2a62c8" stroke-width="1.4" stroke-linejoin="round"/><polygon points="110.8,116.1 116.7,110.6 125.0,113.0 130.2,120.7 121.0,124.6 111.7,122.2" fill="#2ea6da" stroke="#2a62c8" stroke-width="1.4" stroke-linejoin="round"/><polygon points="202.7,99.3 193.4,99.6 192.0,92.7 196.6,85.6 204.2,86.9 209.2,94.1" fill="#3cc2e0" stroke="#2a62c8" stroke-width="1.4" stroke-linejoin="round"/><polygon points="554,278.8 554,286.5 554,294.2 541.9,291.3 537.4,284.2 545.1,277.1" fill="#44c8e4" stroke="#2a62c8" stroke-width="1.4" stroke-linejoin="round"/><polygon points="298.2,57.7 289.5,50.2 289.4,39.7 300.0,36.3 313.3,42.2 309.0,51.6" fill="#36b6de" stroke="#2a62c8" stroke-width="1.4" stroke-linejoin="round"/><polygon points="411.6,156.7 416.9,160.6 418.3,167.7 410.4,172.0 403.7,167.6 404.7,159.7" fill="#3cc2e0" stroke="#2a62c8" stroke-width="1.4" stroke-linejoin="round"/><polygon points="210.6,27.4 206.7,20.7 210.0,14.2 221.5,13.7 224.6,20.1 221.5,26.6" fill="#3ab0dc" stroke="#2a62c8" stroke-width="1.4" stroke-linejoin="round"/><polygon points="491.6,315.4 489.2,307.5 498.3,304.2 507.0,304.8 509.2,312.8 503.4,318.8" fill="#44c8e4" stroke="#2a62c8" stroke-width="1.4" stroke-linejoin="round"/><polygon points="201.5,183.4 212.5,191.6 209.8,204.4 197.1,206.9 182.8,199.3 189.9,188.7" fill="#2ea6da" stroke="#2a62c8" stroke-width="1.4" stroke-linejoin="round"/><polygon points="266.2,157.1 273.3,153.9 282.1,157.5 277.3,165.2 270.9,168.7 266.0,163.9" fill="#2ea6da" stroke="#2a62c8" stroke-width="1.4" stroke-linejoin="round"/><polygon points="147.7,29.2 152.2,34.3 149.8,40.2 142.0,42.9 137.6,36.5 140.0,29.6" fill="#44c8e4" stroke="#2a62c8" stroke-width="1.4" stroke-linejoin="round"/><polygon points="135.1,90.9 125.8,90.3 121.9,84.1 126.6,77.3 137.2,77.7 139.2,85.4" fill="#44c8e4" stroke="#2a62c8" stroke-width="1.4" stroke-linejoin="round"/><polygon points="32.6,76.1 39.5,83.9 36.9,92.6 25.5,97.1 15.8,88.6 21.5,78.7" fill="#3ab0dc" stroke="#2a62c8" stroke-width="1.4" stroke-linejoin="round"/><polygon points="410.3,98.0 400.2,98.6 397.9,89.6 403.7,82.5 412.8,86.4 415.3,93.2" fill="#44c8e4" stroke="#2a62c8" stroke-width="1.4" stroke-linejoin="round"/><polygon points="293.8,173.9 288.7,165.5 291.1,156.4 303.4,156.5 310.4,162.8 306.4,169.8" fill="#36b6de" stroke="#2a62c8" stroke-width="1.4" stroke-linejoin="round"/><polygon points="468.8,182.6 475.3,192.1 462.1,199.1 448.6,196.3 447.8,186.3 455.2,177.5" fill="#36b6de" stroke="#2a62c8" stroke-width="1.4" stroke-linejoin="round"/><polygon points="157.9,27.4 163.3,20.4 173.9,18.4 179.3,26.0 176.1,33.5 165.9,33.0" fill="#2ea6da" stroke="#2a62c8" stroke-width="1.4" stroke-linejoin="round"/><polygon points="402.1,64.5 394.6,66.6 390.9,59.7 395.6,54.6 404.3,55.3 407.6,59.9" fill="#44c8e4" stroke="#2a62c8" stroke-width="1.4" stroke-linejoin="round"/><polygon points="522.7,144.7 510.8,141.3 511.9,131.8 522.7,124.4 533.4,131.1 533.3,141.4" fill="#2ea6da" stroke="#2a62c8" stroke-width="1.4" stroke-linejoin="round"/><polygon points="330.0,95.8 321.7,95.5 317.7,89.4 322.8,84.0 331.1,83.8 334.4,90.5" fill="#3ab0dc" stroke="#2a62c8" stroke-width="1.4" stroke-linejoin="round"/><polygon points="31.3,211.3 24.2,201.1 28.1,190.8 40.7,191.9 51.7,199.4 44.6,208.6" fill="#3cc2e0" stroke="#2a62c8" stroke-width="1.4" stroke-linejoin="round"/><polygon points="75.6,208.4 86.4,206.0 93.2,214.5 88.6,221.3 76.7,224.9 70.8,217.2" fill="#44c8e4" stroke="#2a62c8" stroke-width="1.4" stroke-linejoin="round"/><polygon points="452.0,167.8 457.2,162.2 467.0,165.7 468.3,172.5 463.1,178.3 453.4,177.2" fill="#36b6de" stroke="#2a62c8" stroke-width="1.4" stroke-linejoin="round"/><polygon points="259.8,68.9 276.6,69.2 287.8,78.6 280.1,89.7 265.2,91.7 256.4,80.9" fill="#44c8e4" stroke="#2a62c8" stroke-width="1.4" stroke-linejoin="round"/><polygon points="119.6,100.3 108.6,103.9 95.4,101.8 94.7,90.4 106.8,83.2 116.5,89.8" fill="#3cc2e0" stroke="#2a62c8" stroke-width="1.4" stroke-linejoin="round"/><polygon points="172.3,143.4 162.7,148.9 149.7,149.2 147.5,139.0 153.6,131.6 169.1,134.3" fill="#2ea6da" stroke="#2a62c8" stroke-width="1.4" stroke-linejoin="round"/><polygon points="523.1,230.2 512.9,228.1 511.8,222.0 518.0,215.6 526.6,219.7 527.7,225.6" fill="#2ea6da" stroke="#2a62c8" stroke-width="1.4" stroke-linejoin="round"/><polygon points="486.6,264.9 479.5,268.7 472.2,265.3 471.7,258.3 478.0,253.9 485.3,258.1" fill="#2ea6da" stroke="#2a62c8" stroke-width="1.4" stroke-linejoin="round"/><polygon points="360.1,84.3 348.3,83.3 346.1,74.8 352.5,68.9 365.0,71.5 368.8,78.1" fill="#2ea6da" stroke="#2a62c8" stroke-width="1.4" stroke-linejoin="round"/><polygon points="143.9,134.8 149.5,142.4 145.9,148.6 134.1,150.3 126.4,143.8 132.7,134.4" fill="#3cc2e0" stroke="#2a62c8" stroke-width="1.4" stroke-linejoin="round"/><polygon points="371.7,59.2 362.3,57.7 359.7,52.8 362.4,46.8 371.4,46.6 374.6,53.1" fill="#44c8e4" stroke="#2a62c8" stroke-width="1.4" stroke-linejoin="round"/><polygon points="498.0,176.3 507.6,166.2 517.1,165.3 526.3,175.8 520.4,185.3 505.2,184.7" fill="#3cc2e0" stroke="#2a62c8" stroke-width="1.4" stroke-linejoin="round"/><polygon points="229.6,60.9 229.7,51.3 234.7,42.5 246.6,47.8 251.9,54.8 240.9,60.2" fill="#3cc2e0" stroke="#2a62c8" stroke-width="1.4" stroke-linejoin="round"/><polygon points="280.6,113.4 268.7,109.7 272.4,101.6 280.1,94.3 291.1,100.3 288.1,109.2" fill="#36b6de" stroke="#2a62c8" stroke-width="1.4" stroke-linejoin="round"/><polygon points="236.8,206.2 231.6,217.9 218.9,220.3 212.1,210.8 216.2,201.5 227.2,194.5" fill="#3cc2e0" stroke="#2a62c8" stroke-width="1.4" stroke-linejoin="round"/><polygon points="203.8,100.1 210.9,95.4 223.0,95.8 222.2,104.1 217.9,107.8 207.1,106.9" fill="#3ab0dc" stroke="#2a62c8" stroke-width="1.4" stroke-linejoin="round"/><polygon points="131.6,126.4 135.1,119.6 147.0,118.5 153.5,123.7 148.8,131.2 138.8,133.0" fill="#2ea6da" stroke="#2a62c8" stroke-width="1.4" stroke-linejoin="round"/><polygon points="276.1,185.2 271.6,176.7 282.8,166.3 296.3,170.1 297.0,182.1 288.7,187.7" fill="#3cc2e0" stroke="#2a62c8" stroke-width="1.4" stroke-linejoin="round"/><polygon points="27.7,39.4 18.0,34.6 21.9,26.2 30.2,21.4 40.2,28.7 36.6,37.3" fill="#2ea6da" stroke="#2a62c8" stroke-width="1.4" stroke-linejoin="round"/><polygon points="367.1,22.6 356.9,30.7 345.8,28.4 338.5,15.9 351.0,7.3 362.8,11.2" fill="#3cc2e0" stroke="#2a62c8" stroke-width="1.4" stroke-linejoin="round"/><polygon points="104.4,37.2 89.6,37.9 79.2,30.4 85.0,18.4 99.1,16.8 109.2,26.4" fill="#44c8e4" stroke="#2a62c8" stroke-width="1.4" stroke-linejoin="round"/><polygon points="121.3,131.2 128.1,141.3 121.6,149.0 109.1,151.1 104.1,140.7 110.7,131.2" fill="#3cc2e0" stroke="#2a62c8" stroke-width="1.4" stroke-linejoin="round"/><polygon points="429.3,104.4 435.1,109.7 429.8,116.2 421.4,117.3 418.1,110.7 420.6,105.7" fill="#44c8e4" stroke="#2a62c8" stroke-width="1.4" stroke-linejoin="round"/><polygon points="118.0,85.1 127.6,78.8 141.0,83.2 141.2,93.8 129.4,101.8 117.5,94.7" fill="#36b6de" stroke="#2a62c8" stroke-width="1.4" stroke-linejoin="round"/><polygon points="91.8,210.7 96.4,203.3 108.9,201.8 115.1,210.8 108.5,218.9 96.8,218.2" fill="#36b6de" stroke="#2a62c8" stroke-width="1.4" stroke-linejoin="round"/><polygon points="478.4,256.9 467.1,257.9 463.8,250.9 467.1,242.2 479.1,241.8 487.2,250.6" fill="#2ea6da" stroke="#2a62c8" stroke-width="1.4" stroke-linejoin="round"/><polygon points="146.3,104.9 136.8,106.5 129.4,101.8 133.8,92.5 143.1,91.4 149.7,97.6" fill="#3ab0dc" stroke="#2a62c8" stroke-width="1.4" stroke-linejoin="round"/><polygon points="405.5,231.6 417.5,228.8 425.3,237.2 421.6,245.9 409.2,249.0 401.9,240.9" fill="#36b6de" stroke="#2a62c8" stroke-width="1.4" stroke-linejoin="round"/><polygon points="53.9,183.0 49.1,193.7 40.5,195.3 31.2,191.1 33.1,180.3 42.2,179.0" fill="#44c8e4" stroke="#2a62c8" stroke-width="1.4" stroke-linejoin="round"/><polygon points="424.2,176.0 428.7,170.4 436.5,171.0 440.2,178.4 434.1,183.9 425.7,184.2" fill="#3ab0dc" stroke="#2a62c8" stroke-width="1.4" stroke-linejoin="round"/><polygon points="147.0,82.7 137.3,81.9 128.9,75.5 133.8,66.1 145.3,65.5 150.1,73.9" fill="#3ab0dc" stroke="#2a62c8" stroke-width="1.4" stroke-linejoin="round"/><polygon points="70.1,100.7 65.1,108.6 54.7,110.0 48.6,101.8 54.4,92.7 63.8,94.1" fill="#36b6de" stroke="#2a62c8" stroke-width="1.4" stroke-linejoin="round"/><polygon points="236.5,114.8 228.9,122.1 218.5,121.8 213.6,113.4 218.7,107.5 229.3,107.9" fill="#44c8e4" stroke="#2a62c8" stroke-width="1.4" stroke-linejoin="round"/><polygon points="90.8,224.7 102.4,221.5 110.4,226.1 113.4,235.3 101.0,239.3 92.7,235.4" fill="#3ab0dc" stroke="#2a62c8" stroke-width="1.4" stroke-linejoin="round"/><polygon points="145.0,73.5 142.1,83.5 129.8,80.6 121.4,74.8 128.7,65.4 139.1,66.8" fill="#3ab0dc" stroke="#2a62c8" stroke-width="1.4" stroke-linejoin="round"/><polygon points="546.7,311.4 538.2,315.3 531.0,315.3 528.4,308.7 533.6,304.6 542.8,305.2" fill="#3cc2e0" stroke="#2a62c8" stroke-width="1.4" stroke-linejoin="round"/><polygon points="116.8,37.4 118.1,49.1 108.2,55.1 94.1,51.6 95.6,43.3 103.8,37.0" fill="#36b6de" stroke="#2a62c8" stroke-width="1.4" stroke-linejoin="round"/><polygon points="325.0,82.9 330.8,92.3 328.1,98.9 314.5,104.1 305.7,94.3 314.4,83.5" fill="#3ab0dc" stroke="#2a62c8" stroke-width="1.4" stroke-linejoin="round"/><polygon points="46.7,156.0 58.9,155.7 68.4,159.6 70.6,170.9 56.4,176.3 46.0,168.2" fill="#44c8e4" stroke="#2a62c8" stroke-width="1.4" stroke-linejoin="round"/><polygon points="406.9,78.8 397.9,76.4 398.2,70.3 403.5,66.8 410.7,67.1 412.7,74.2" fill="#3ab0dc" stroke="#2a62c8" stroke-width="1.4" stroke-linejoin="round"/><polygon points="399.7,53.1 408.3,49.9 418.6,52.6 417.7,60.4 408.9,64.8 400.6,60.7" fill="#2ea6da" stroke="#2a62c8" stroke-width="1.4" stroke-linejoin="round"/><polygon points="169.4,179.5 180.6,183.8 183.3,190.2 176.2,198.6 164.2,196.0 160.5,186.8" fill="#44c8e4" stroke="#2a62c8" stroke-width="1.4" stroke-linejoin="round"/><polygon points="325.6,219.8 315.3,226.4 306.7,219.0 308.1,209.1 316.2,203.9 327.7,211.1" fill="#3ab0dc" stroke="#2a62c8" stroke-width="1.4" stroke-linejoin="round"/><polygon points="65.8,122.6 56.8,127.8 48.9,124.9 47.6,116.6 55.7,113.7 64.3,116.8" fill="#36b6de" stroke="#2a62c8" stroke-width="1.4" stroke-linejoin="round"/><polygon points="442.2,229.6 450.8,240.0 449.9,248.2 434.2,251.7 422.9,244.4 427.3,231.8" fill="#3cc2e0" stroke="#2a62c8" stroke-width="1.4" stroke-linejoin="round"/><polygon points="142.5,108.1 134.3,102.7 132.6,92.7 143.1,89.3 152.1,93.9 153.6,101.4" fill="#2ea6da" stroke="#2a62c8" stroke-width="1.4" stroke-linejoin="round"/><polygon points="510.7,222.0 509.7,213.9 516.8,207.3 529.0,210.4 530.2,220.0 521.0,225.0" fill="#2ea6da" stroke="#2a62c8" stroke-width="1.4" stroke-linejoin="round"/><polygon points="525.7,200.1 537.7,206.2 532.5,219.5 521.4,222.2 507.9,214.4 513.8,202.8" fill="#36b6de" stroke="#2a62c8" stroke-width="1.4" stroke-linejoin="round"/><polygon points="248.0,132.8 247.8,141.6 236.4,145.6 226.7,138.2 232.8,129.6 241.5,127.4" fill="#3ab0dc" stroke="#2a62c8" stroke-width="1.4" stroke-linejoin="round"/><polygon points="328.6,147.2 322.2,148.4 313.0,146.5 314.7,138.3 322.6,134.7 328.2,140.1" fill="#3cc2e0" stroke="#2a62c8" stroke-width="1.4" stroke-linejoin="round"/><polygon points="251.4,34.2 244.4,41.9 234.9,45.0 228.8,38.8 229.0,29.0 240.4,26.4" fill="#3ab0dc" stroke="#2a62c8" stroke-width="1.4" stroke-linejoin="round"/><polygon points="225.3,38.9 215.1,35.4 212.7,24.6 224.5,21.0 236.6,23.0 237.9,35.2" fill="#3cc2e0" stroke="#2a62c8" stroke-width="1.4" stroke-linejoin="round"/><polygon points="458.4,236.9 467.2,240.8 469.2,248.8 460.4,253.5 449.5,249.9 451.1,240.0" fill="#3ab0dc" stroke="#2a62c8" stroke-width="1.4" stroke-linejoin="round"/><polygon points="433.3,148.7 438.6,158.1 428.2,163.4 415.8,162.0 415.0,151.8 421.6,144.9" fill="#44c8e4" stroke="#2a62c8" stroke-width="1.4" stroke-linejoin="round"/><polygon points="240.6,212.2 247.8,218.7 245.3,226.8 237.9,229.1 229.5,224.8 231.7,216.1" fill="#36b6de" stroke="#2a62c8" stroke-width="1.4" stroke-linejoin="round"/><polygon points="420.6,150.7 412.9,159.1 401.2,153.2 400.6,144.5 409.0,137.3 419.5,142.3" fill="#3cc2e0" stroke="#2a62c8" stroke-width="1.4" stroke-linejoin="round"/><polygon points="318.2,189.5 305.5,186.9 298.2,179.6 307.1,171.0 317.7,171.3 326.8,179.6" fill="#2ea6da" stroke="#2a62c8" stroke-width="1.4" stroke-linejoin="round"/><polygon points="35.7,93.0 48.6,94.5 54.7,103.3 46.0,112.7 34.8,109.6 25.9,100.3" fill="#36b6de" stroke="#2a62c8" stroke-width="1.4" stroke-linejoin="round"/><polygon points="503.2,221.6 495.1,222.5 493.1,215.6 497.4,210.5 505.7,210.2 511.3,217.8" fill="#2ea6da" stroke="#2a62c8" stroke-width="1.4" stroke-linejoin="round"/><polygon points="425.8,103.5 422.9,94.0 428.3,85.4 442.5,89.6 443.3,97.3 438.3,104.5" fill="#3ab0dc" stroke="#2a62c8" stroke-width="1.4" stroke-linejoin="round"/><polygon points="397.1,65.7 400.5,76.5 391.6,85.7 380.8,83.3 374.2,70.6 385.3,65.1" fill="#2ea6da" stroke="#2a62c8" stroke-width="1.4" stroke-linejoin="round"/><polygon points="408.4,173.3 405.0,163.9 416.6,160.0 426.4,160.3 427.7,170.8 420.9,174.3" fill="#36b6de" stroke="#2a62c8" stroke-width="1.4" stroke-linejoin="round"/><polygon points="197.5,92.2 188.1,87.9 191.1,79.1 198.7,76.2 206.5,80.2 207.9,89.6" fill="#44c8e4" stroke="#2a62c8" stroke-width="1.4" stroke-linejoin="round"/><polygon points="372.1,175.8 370.1,167.0 378.6,159.4 388.2,165.8 390.3,172.5 383.0,179.6" fill="#2ea6da" stroke="#2a62c8" stroke-width="1.4" stroke-linejoin="round"/><polygon points="273.5,121.1 284.0,115.9 298.3,118.5 301.4,129.4 290.0,134.7 278.0,132.6" fill="#2ea6da" stroke="#2a62c8" stroke-width="1.4" stroke-linejoin="round"/><polygon points="305.8,166.9 307.0,176.9 301.6,181.5 292.5,182.0 290.6,173.5 294.5,167.3" fill="#3ab0dc" stroke="#2a62c8" stroke-width="1.4" stroke-linejoin="round"/><polygon points="314.1,199.9 319.9,192.5 328.4,191.2 335.4,196.1 330.5,202.8 322.5,204.3" fill="#3cc2e0" stroke="#2a62c8" stroke-width="1.4" stroke-linejoin="round"/><polygon points="141.1,99.6 141.1,108.1 135.4,112.3 127.3,110.3 123.3,102.7 131.7,97.6" fill="#36b6de" stroke="#2a62c8" stroke-width="1.4" stroke-linejoin="round"/><polygon points="493.7,206.5 501.0,217.6 494.8,229.4 481.5,229.5 469.7,221.7 478.3,209.4" fill="#44c8e4" stroke="#2a62c8" stroke-width="1.4" stroke-linejoin="round"/><polygon points="126.8,86.1 138.8,86.0 149.3,95.4 140.4,106.2 123.5,104.1 115.6,94.3" fill="#3cc2e0" stroke="#2a62c8" stroke-width="1.4" stroke-linejoin="round"/><polygon points="225.6,206.9 217.0,203.7 218.2,195.2 225.9,192.1 232.6,197.3 234.4,204.1" fill="#36b6de" stroke="#2a62c8" stroke-width="1.4" stroke-linejoin="round"/><polygon points="236.1,163.2 244.5,158.9 252.7,160.1 253.7,166.4 249.4,171.0 241.8,169.1" fill="#3ab0dc" stroke="#2a62c8" stroke-width="1.4" stroke-linejoin="round"/><polygon points="492.7,131.8 484.9,134.9 477.0,134.0 475.0,127.9 480.5,121.9 487.8,125.4" fill="#3ab0dc" stroke="#2a62c8" stroke-width="1.4" stroke-linejoin="round"/><polygon points="435.2,132.8 443.9,133.6 442.7,144.3 435.7,147.8 424.5,144.8 426.8,135.6" fill="#36b6de" stroke="#2a62c8" stroke-width="1.4" stroke-linejoin="round"/><polygon points="56.6,232.0 51.3,224.2 51.6,215.6 62.8,214.8 67.9,220.1 64.9,227.8" fill="#2ea6da" stroke="#2a62c8" stroke-width="1.4" stroke-linejoin="round"/><polygon points="335.7,224.1 335.0,232.9 327.3,240.1 317.0,236.8 315.5,226.8 321.8,220.8" fill="#3ab0dc" stroke="#2a62c8" stroke-width="1.4" stroke-linejoin="round"/><polygon points="158.2,120.9 143.9,116.6 142.3,108.1 150.0,98.7 160.5,101.7 165.2,110.9" fill="#3cc2e0" stroke="#2a62c8" stroke-width="1.4" stroke-linejoin="round"/><polygon points="365.6,214.8 370.1,203.9 383.0,205.2 390.5,211.3 387.4,220.0 374.0,221.7" fill="#44c8e4" stroke="#2a62c8" stroke-width="1.4" stroke-linejoin="round"/><polygon points="285.9,202.6 302.8,198.8 310.1,209.4 304.6,218.5 289.2,220.1 280.4,211.2" fill="#3cc2e0" stroke="#2a62c8" stroke-width="1.4" stroke-linejoin="round"/><polygon points="76.1,239.6 65.3,232.9 67.1,225.7 76.8,221.4 87.2,226.8 84.5,233.4" fill="#2ea6da" stroke="#2a62c8" stroke-width="1.4" stroke-linejoin="round"/><polygon points="496.7,134.8 494.4,124.9 501.5,117.8 513.8,120.1 517.2,128.8 508.7,138.5" fill="#44c8e4" stroke="#2a62c8" stroke-width="1.4" stroke-linejoin="round"/><polygon points="339.8,176.9 332.9,185.1 320.1,178.6 319.9,169.8 328.7,164.3 342.2,167.3" fill="#44c8e4" stroke="#2a62c8" stroke-width="1.4" stroke-linejoin="round"/><polygon points="28.3,37.3 40.4,29.6 51.3,33.3 54.9,42.4 48.1,49.5 33.7,48.9" fill="#3cc2e0" stroke="#2a62c8" stroke-width="1.4" stroke-linejoin="round"/><polygon points="494.7,170.6 484.8,172.0 479.3,165.6 480.6,159.9 490.9,157.7 494.7,162.5" fill="#3cc2e0" stroke="#2a62c8" stroke-width="1.4" stroke-linejoin="round"/><polygon points="184.2,122.3 193.8,131.6 193.6,142.9 181.4,151.1 170.1,140.7 171.0,131.0" fill="#3cc2e0" stroke="#2a62c8" stroke-width="1.4" stroke-linejoin="round"/><polygon points="445.0,22.9 432.3,21.6 425.2,15.3 430.9,5.6 441.9,5.7 448.4,12.1" fill="#36b6de" stroke="#2a62c8" stroke-width="1.4" stroke-linejoin="round"/><polygon points="260.2,46.6 249.9,46.0 246.4,40.1 249.4,33.4 258.7,33.2 264.6,40.3" fill="#3ab0dc" stroke="#2a62c8" stroke-width="1.4" stroke-linejoin="round"/><polygon points="252.4,75.2 249.3,85.9 238.4,90.9 223.8,85.6 225.9,74.2 237.3,69.1" fill="#3ab0dc" stroke="#2a62c8" stroke-width="1.4" stroke-linejoin="round"/><polygon points="200.7,35.3 210.9,31.7 216.1,38.1 213.8,45.5 205.4,46.2 199.1,41.0" fill="#44c8e4" stroke="#2a62c8" stroke-width="1.4" stroke-linejoin="round"/><polygon points="447.0,117.1 439.1,116.6 432.2,113.3 434.9,106.8 443.5,103.8 453.1,108.8" fill="#3ab0dc" stroke="#2a62c8" stroke-width="1.4" stroke-linejoin="round"/><polygon points="74.1,125.3 62.1,125.2 56.5,115.7 62.8,108.1 73.3,107.9 77.5,116.7" fill="#2ea6da" stroke="#2a62c8" stroke-width="1.4" stroke-linejoin="round"/><polygon points="357.7,59.3 356.5,48.9 367.8,42.4 376.3,49.6 376.2,57.5 368.5,62.4" fill="#44c8e4" stroke="#2a62c8" stroke-width="1.4" stroke-linejoin="round"/><polygon points="68.0,51.8 80.2,48.3 89.0,55.2 87.5,63.5 73.9,67.7 64.0,60.2" fill="#36b6de" stroke="#2a62c8" stroke-width="1.4" stroke-linejoin="round"/><polygon points="218.8,179.0 221.8,172.3 229.5,169.3 237.2,175.6 235.8,183.7 224.6,183.2" fill="#44c8e4" stroke="#2a62c8" stroke-width="1.4" stroke-linejoin="round"/><polygon points="116.1,50.3 107.1,44.7 106.6,38.3 113.5,32.4 123.6,36.5 123.4,43.9" fill="#2ea6da" stroke="#2a62c8" stroke-width="1.4" stroke-linejoin="round"/><polygon points="449.8,162.7 448.3,175.1 440.5,186.0 425.8,182.1 421.0,169.3 433.1,163.0" fill="#36b6de" stroke="#2a62c8" stroke-width="1.4" stroke-linejoin="round"/><polygon points="193.4,102.0 203.1,99.8 209.0,101.8 209.6,110.3 202.3,111.7 195.8,109.0" fill="#3cc2e0" stroke="#2a62c8" stroke-width="1.4" stroke-linejoin="round"/><polygon points="398.3,111.4 395.2,101.5 399.9,94.0 414.0,94.0 414.7,104.5 409.0,112.9" fill="#3cc2e0" stroke="#2a62c8" stroke-width="1.4" stroke-linejoin="round"/><polygon points="50.2,204.8 41.3,207.3 30.1,204.4 32.9,196.2 41.8,191.5 50.4,195.8" fill="#3ab0dc" stroke="#2a62c8" stroke-width="1.4" stroke-linejoin="round"/><polygon points="195.4,79.6 189.0,84.6 181.3,80.9 177.9,75.3 185.4,70.8 193.1,73.7" fill="#2ea6da" stroke="#2a62c8" stroke-width="1.4" stroke-linejoin="round"/><polygon points="420.6,44.8 424.6,52.3 423.8,58.5 413.9,60.7 405.4,55.1 411.9,47.7" fill="#2ea6da" stroke="#2a62c8" stroke-width="1.4" stroke-linejoin="round"/><polygon points="387.4,227.2 395.0,218.6 405.2,221.3 411.3,231.1 403.6,235.9 391.6,235.6" fill="#3ab0dc" stroke="#2a62c8" stroke-width="1.4" stroke-linejoin="round"/><polygon points="90.7,182.9 98.0,187.0 96.6,194.8 90.3,200.6 81.0,194.7 84.2,187.1" fill="#3cc2e0" stroke="#2a62c8" stroke-width="1.4" stroke-linejoin="round"/><polygon points="47.4,157.0 37.1,158.4 34.2,150.1 37.5,144.4 47.3,143.3 52.7,150.5" fill="#2ea6da" stroke="#2a62c8" stroke-width="1.4" stroke-linejoin="round"/><polygon points="523.0,307.8 531.4,316.3 525.2,325.8 508.4,326.0 506.2,317.0 510.6,305.6" fill="#3cc2e0" stroke="#2a62c8" stroke-width="1.4" stroke-linejoin="round"/><polygon points="371.9,37.6 362.2,40.5 352.4,37.9 355.5,30.6 361.9,25.4 372.0,29.8" fill="#2ea6da" stroke="#2a62c8" stroke-width="1.4" stroke-linejoin="round"/><polygon points="416.1,43.5 414.1,50.5 405.6,54.0 397.5,48.6 399.7,39.7 410.7,37.3" fill="#3cc2e0" stroke="#2a62c8" stroke-width="1.4" stroke-linejoin="round"/><polygon points="415.9,165.1 410.5,176.5 395.8,177.0 390.7,166.8 392.9,154.7 408.1,157.1" fill="#44c8e4" stroke="#2a62c8" stroke-width="1.4" stroke-linejoin="round"/><polygon points="409.2,48.4 409.9,60.4 393.5,62.9 378.4,59.6 379.3,48.0 393.9,43.1" fill="#3cc2e0" stroke="#2a62c8" stroke-width="1.4" stroke-linejoin="round"/><polygon points="200.0,28.5 189.2,35.0 175.1,32.7 172.3,19.9 184.2,16.7 197.0,17.0" fill="#3ab0dc" stroke="#2a62c8" stroke-width="1.4" stroke-linejoin="round"/><polygon points="195.6,30.3 190.5,21.7 193.8,14.0 208.2,11.3 215.5,20.5 209.9,27.8" fill="#3ab0dc" stroke="#2a62c8" stroke-width="1.4" stroke-linejoin="round"/><polygon points="226.8,99.1 216.3,104.4 205.8,98.6 207.3,85.9 218.1,82.8 227.4,90.1" fill="#2ea6da" stroke="#2a62c8" stroke-width="1.4" stroke-linejoin="round"/><polygon points="236.1,226.4 239.0,235.0 234.1,243.9 221.6,241.9 215.6,233.1 225.4,226.5" fill="#2ea6da" stroke="#2a62c8" stroke-width="1.4" stroke-linejoin="round"/><polygon points="417.1,48.1 430.3,44.1 436.8,50.4 434.6,59.0 423.0,62.0 416.3,56.0" fill="#3ab0dc" stroke="#2a62c8" stroke-width="1.4" stroke-linejoin="round"/><polygon points="536.6,181.5 544.7,186.7 547.1,194.8 537.2,199.9 529.7,195.8 527.8,186.7" fill="#36b6de" stroke="#2a62c8" stroke-width="1.4" stroke-linejoin="round"/><polygon points="462.7,169.9 454.2,179.3 442.1,174.4 437.5,167.0 446.6,158.8 457.9,162.0" fill="#3ab0dc" stroke="#2a62c8" stroke-width="1.4" stroke-linejoin="round"/><polygon points="372.4,105.2 371.8,97.5 377.0,91.4 385.7,95.3 388.7,102.8 379.6,106.5" fill="#2ea6da" stroke="#2a62c8" stroke-width="1.4" stroke-linejoin="round"/><polygon points="153.5,22.8 157.7,29.4 153.8,34.4 145.3,34.2 140.9,28.2 145.5,22.4" fill="#36b6de" stroke="#2a62c8" stroke-width="1.4" stroke-linejoin="round"/><polygon points="393.4,71.2 396.9,79.0 394.2,90.1 379.5,86.0 373.9,79.1 381.0,71.0" fill="#3cc2e0" stroke="#2a62c8" stroke-width="1.4" stroke-linejoin="round"/><polygon points="129.9,128.9 121.4,128.7 113.4,124.7 117.5,116.1 126.5,115.1 133.9,120.4" fill="#44c8e4" stroke="#2a62c8" stroke-width="1.4" stroke-linejoin="round"/><polygon points="120.6,74.9 110.7,70.6 116.2,62.7 125.7,56.8 136.3,64.8 134.1,72.8" fill="#44c8e4" stroke="#2a62c8" stroke-width="1.4" stroke-linejoin="round"/><polygon points="328.7,157.3 336.9,154.5 344.0,160.6 338.1,167.2 330.7,168.9 326.5,163.4" fill="#44c8e4" stroke="#2a62c8" stroke-width="1.4" stroke-linejoin="round"/><polygon points="448.2,110.4 451.2,103.3 459.3,98.1 465.6,105.5 466.0,113.9 455.8,115.8" fill="#3ab0dc" stroke="#2a62c8" stroke-width="1.4" stroke-linejoin="round"/><polygon points="289.3,52.6 279.5,61.0 267.0,56.5 267.1,45.8 277.1,38.3 288.5,44.0" fill="#36b6de" stroke="#2a62c8" stroke-width="1.4" stroke-linejoin="round"/><polygon points="83.4,178.0 73.9,182.8 62.3,177.3 63.3,166.1 78.0,162.4 87.8,170.2" fill="#2ea6da" stroke="#2a62c8" stroke-width="1.4" stroke-linejoin="round"/><polygon points="529.1,203.2 521.8,207.8 512.6,205.2 511.5,198.2 516.1,194.4 524.5,195.1" fill="#36b6de" stroke="#2a62c8" stroke-width="1.4" stroke-linejoin="round"/><polygon points="85.6,65.9 97.8,58.5 113.2,57.4 114.8,70.2 106.5,79.7 94.9,78.7" fill="#3cc2e0" stroke="#2a62c8" stroke-width="1.4" stroke-linejoin="round"/><polygon points="164.9,35.0 172.5,32.9 180.2,36.4 177.1,44.0 169.1,46.7 160.4,41.1" fill="#36b6de" stroke="#2a62c8" stroke-width="1.4" stroke-linejoin="round"/><polygon points="334.3,203.0 331.3,195.0 339.6,190.8 348.2,192.4 352.3,200.8 345.0,206.3" fill="#3ab0dc" stroke="#2a62c8" stroke-width="1.4" stroke-linejoin="round"/><polygon points="453.5,5.3 460.9,9.9 456.9,18.5 449.6,19.1 439.9,14.2 442.4,6.4" fill="#36b6de" stroke="#2a62c8" stroke-width="1.4" stroke-linejoin="round"/><polygon points="92.7,233.1 105.8,237.1 110.9,244.7 103.6,251.6 92.7,253.4 87.5,242.6" fill="#36b6de" stroke="#2a62c8" stroke-width="1.4" stroke-linejoin="round"/><polygon points="157.4,119.1 170.1,120.0 169.0,131.4 159.9,135.2 151.4,130.7 147.7,122.5" fill="#3ab0dc" stroke="#2a62c8" stroke-width="1.4" stroke-linejoin="round"/><polygon points="466.3,219.9 472.0,229.0 465.5,237.3 453.8,235.2 449.2,227.8 457.3,222.0" fill="#36b6de" stroke="#2a62c8" stroke-width="1.4" stroke-linejoin="round"/><polygon points="108.9,180.6 92.9,190.5 80.5,181.9 80.9,170.5 94.0,164.0 109.5,171.2" fill="#3ab0dc" stroke="#2a62c8" stroke-width="1.4" stroke-linejoin="round"/><polygon points="533.0,275.7 539.3,270.5 546.9,273.8 548.9,281.3 541.5,284.2 533.8,282.0" fill="#36b6de" stroke="#2a62c8" stroke-width="1.4" stroke-linejoin="round"/><polygon points="239.0,153.3 227.3,148.0 232.0,135.9 242.3,134.4 250.7,139.1 250.3,150.1" fill="#2ea6da" stroke="#2a62c8" stroke-width="1.4" stroke-linejoin="round"/><polygon points="344.7,211.6 338.8,221.0 329.0,218.3 325.1,211.8 329.0,205.6 339.7,202.4" fill="#2ea6da" stroke="#2a62c8" stroke-width="1.4" stroke-linejoin="round"/><polygon points="544.5,277.2 531.3,281.0 520.3,272.6 519.5,260.6 535.4,258.2 543.9,264.9" fill="#3ab0dc" stroke="#2a62c8" stroke-width="1.4" stroke-linejoin="round"/><polygon points="143.1,132.5 130.3,135.8 119.2,129.5 122.5,121.9 133.6,118.8 143.0,123.0" fill="#36b6de" stroke="#2a62c8" stroke-width="1.4" stroke-linejoin="round"/><polygon points="21.9,89.7 9.1,91.0 4.0,80.7 14.7,75.3 26.9,73.7 29.8,83.6" fill="#44c8e4" stroke="#2a62c8" stroke-width="1.4" stroke-linejoin="round"/><polygon points="337.9,140.6 349.3,143.1 351.5,153.0 345.7,159.0 333.6,157.6 327.5,149.3" fill="#44c8e4" stroke="#2a62c8" stroke-width="1.4" stroke-linejoin="round"/><polygon points="184.9,133.2 187.7,138.7 183.2,145.9 174.8,144.9 168.6,138.4 175.4,132.1" fill="#3ab0dc" stroke="#2a62c8" stroke-width="1.4" stroke-linejoin="round"/><polygon points="302.9,47.4 292.9,40.9 294.8,30.5 303.3,27.6 311.4,32.3 315.4,41.7" fill="#2ea6da" stroke="#2a62c8" stroke-width="1.4" stroke-linejoin="round"/><polygon points="261.0,59.5 264.6,49.6 276.5,51.2 285.1,56.5 280.9,64.3 268.3,66.3" fill="#3ab0dc" stroke="#2a62c8" stroke-width="1.4" stroke-linejoin="round"/><polygon points="260.9,137.1 271.6,132.4 281.2,137.7 285.5,147.7 272.6,152.2 260.7,146.0" fill="#2ea6da" stroke="#2a62c8" stroke-width="1.4" stroke-linejoin="round"/><polygon points="127.3,203.0 138.1,197.5 150.2,205.0 145.1,214.1 134.8,218.5 123.6,212.3" fill="#3ab0dc" stroke="#2a62c8" stroke-width="1.4" stroke-linejoin="round"/><polygon points="528.4,143.7 539.0,143.9 546.1,151.7 539.5,159.2 529.8,162.9 525.2,153.7" fill="#3cc2e0" stroke="#2a62c8" stroke-width="1.4" stroke-linejoin="round"/><polygon points="440.0,90.8 445.4,97.2 437.5,103.0 429.9,99.8 428.6,93.2 433.1,87.1" fill="#2ea6da" stroke="#2a62c8" stroke-width="1.4" stroke-linejoin="round"/><polygon points="530.3,199.5 541.5,193.9 554,199.6 554,208.8 540.8,214.2 529.9,210.8" fill="#2ea6da" stroke="#2a62c8" stroke-width="1.4" stroke-linejoin="round"/><polygon points="245.8,61.8 260.3,59.6 270.0,67.5 266.9,76.3 253.8,78.3 247.1,72.6" fill="#44c8e4" stroke="#2a62c8" stroke-width="1.4" stroke-linejoin="round"/><polygon points="445.8,57.5 439.0,48.1 446.5,40.5 456.3,41.5 460.2,47.3 457.0,54.1" fill="#2ea6da" stroke="#2a62c8" stroke-width="1.4" stroke-linejoin="round"/><polygon points="209.8,59.2 198.2,63.2 186.5,59.4 188.7,48.8 199.8,43.6 208.6,50.4" fill="#3cc2e0" stroke="#2a62c8" stroke-width="1.4" stroke-linejoin="round"/><polygon points="202.7,122.9 210.5,114.7 225.0,108.9 233.5,121.2 226.9,132.5 212.7,131.6" fill="#3ab0dc" stroke="#2a62c8" stroke-width="1.4" stroke-linejoin="round"/><polygon points="184.4,76.0 197.3,73.3 203.7,82.7 198.0,89.2 186.9,89.5 180.8,82.4" fill="#2ea6da" stroke="#2a62c8" stroke-width="1.4" stroke-linejoin="round"/><polygon points="383.0,115.2 396.5,121.7 393.8,132.6 382.2,136.7 370.9,132.1 372.5,121.8" fill="#3cc2e0" stroke="#2a62c8" stroke-width="1.4" stroke-linejoin="round"/><polygon points="63.6,156.8 51.8,158.0 45.9,147.8 51.0,139.0 62.6,137.5 70.0,146.1" fill="#3cc2e0" stroke="#2a62c8" stroke-width="1.4" stroke-linejoin="round"/><polygon points="438.5,142.4 429.8,137.4 429.0,128.6 437.3,123.0 445.9,126.8 445.2,137.1" fill="#3cc2e0" stroke="#2a62c8" stroke-width="1.4" stroke-linejoin="round"/><polygon points="330.1,37.3 334.4,26.4 348.6,20.4 360.7,29.2 358.8,42.7 341.8,43.5" fill="#3ab0dc" stroke="#2a62c8" stroke-width="1.4" stroke-linejoin="round"/><polygon points="226.4,136.1 218.2,145.9 203.0,143.0 198.4,133.2 207.9,122.1 222.3,126.1" fill="#3ab0dc" stroke="#2a62c8" stroke-width="1.4" stroke-linejoin="round"/><polygon points="474.3,238.8 474.5,246.0 462.7,250.1 453.8,245.4 456.2,234.8 465.3,234.0" fill="#44c8e4" stroke="#2a62c8" stroke-width="1.4" stroke-linejoin="round"/><polygon points="60.1,170.5 74.4,177.6 81.7,186.4 69.6,194.7 58.1,194.4 53.4,181.9" fill="#2ea6da" stroke="#2a62c8" stroke-width="1.4" stroke-linejoin="round"/><polygon points="393.4,199.6 387.5,189.4 397.7,180.2 409.7,184.0 412.4,195.0 404.2,204.2" fill="#3cc2e0" stroke="#2a62c8" stroke-width="1.4" stroke-linejoin="round"/><polygon points="398.9,130.6 400.4,123.3 407.6,118.3 416.2,124.1 414.8,133.4 405.3,135.4" fill="#3cc2e0" stroke="#2a62c8" stroke-width="1.4" stroke-linejoin="round"/><polygon points="257.1,139.4 264.8,148.2 265.1,158.1 251.7,162.1 241.0,155.3 244.4,143.8" fill="#36b6de" stroke="#2a62c8" stroke-width="1.4" stroke-linejoin="round"/><polygon points="94.8,235.0 83.2,233.1 82.8,224.6 89.9,216.6 102.7,219.6 101.1,229.2" fill="#44c8e4" stroke="#2a62c8" stroke-width="1.4" stroke-linejoin="round"/><polygon points="464.8,218.1 464.1,209.0 475.0,205.8 483.1,211.7 480.4,219.8 472.1,222.0" fill="#44c8e4" stroke="#2a62c8" stroke-width="1.4" stroke-linejoin="round"/><polygon points="314.9,223.3 323.3,220.5 332.9,225.6 330.3,235.5 320.1,238.7 313.1,231.9" fill="#36b6de" stroke="#2a62c8" stroke-width="1.4" stroke-linejoin="round"/><polygon points="65.6,52.9 75.0,53.3 79.0,59.5 74.7,64.9 66.1,66.1 63.8,61.1" fill="#44c8e4" stroke="#2a62c8" stroke-width="1.4" stroke-linejoin="round"/><polygon points="317.4,66.9 318.5,77.8 308.7,80.8 294.8,79.0 292.5,67.3 305.9,59.9" fill="#3ab0dc" stroke="#2a62c8" stroke-width="1.4" stroke-linejoin="round"/><polygon points="203.5,102.5 197.1,107.1 188.2,103.2 188.3,95.6 195.6,92.1 202.5,96.0" fill="#44c8e4" stroke="#2a62c8" stroke-width="1.4" stroke-linejoin="round"/><polygon points="321.9,206.8 316.9,197.9 321.9,192.5 333.5,192.1 340.9,199.8 331.1,206.8" fill="#3cc2e0" stroke="#2a62c8" stroke-width="1.4" stroke-linejoin="round"/><polygon points="394.0,126.6 393.7,117.4 402.3,111.0 411.9,115.9 411.4,124.4 405.0,127.6" fill="#44c8e4" stroke="#2a62c8" stroke-width="1.4" stroke-linejoin="round"/><polygon points="110.8,141.3 116.2,134.5 124.0,133.9 129.0,137.5 127.2,143.4 119.2,148.0" fill="#36b6de" stroke="#2a62c8" stroke-width="1.4" stroke-linejoin="round"/><polygon points="-4,-4 47,-4 55,17 40,30 20,35 -4,32" fill="#a8a8aa" stroke="#2a62c8" stroke-width="1.4" stroke-linejoin="round"/><polygon points="50,-4 120,-4 110,12 90,22 65,20 52,10" fill="#d6d6da" stroke="#2a62c8" stroke-width="1.4" stroke-linejoin="round"/><polygon points="276,-4 296,-4 293,40 288,47 278,30" fill="#d8d8dc" stroke="#2a62c8" stroke-width="1.4" stroke-linejoin="round"/><polygon points="165,7 185,5 210,10 240,5 250,15 235,25 190,25 170,20" fill="#42c2e0" stroke="#2a62c8" stroke-width="1.4" stroke-linejoin="round"/><polygon points="15,35 45,27 65,30 85,27 100,37 95,55 75,75 30,75 10,65 10,50" fill="#42c2e0" stroke="#2a62c8" stroke-width="1.4" stroke-linejoin="round"/><polygon points="40,40 60,38 62,55 42,58" fill="#2ea4d8" stroke="#2a62c8" stroke-width="1.4" stroke-linejoin="round"/><polygon points="130,5 160,5 180,25 177,40 150,37 132,22" fill="#c2d046" stroke="#2a62c8" stroke-width="1.4" stroke-linejoin="round"/><polygon points="90,37 120,35 165,45 160,65 135,67 110,55 95,50" fill="#3cc64c" stroke="#2a62c8" stroke-width="1.4" stroke-linejoin="round"/><polygon points="185,30 220,22 255,15 275,20 275,65 255,75 235,97 210,100 200,82 165,80 157,60 170,40" fill="#c2d046" stroke="#2a62c8" stroke-width="1.4" stroke-linejoin="round"/><polygon points="202,50 222,50 225,70 205,70" fill="#4a2c34" stroke="#2a62c8" stroke-width="1.4" stroke-linejoin="round"/><polygon points="65,47 90,50 135,70 140,85 120,92 90,87 75,80 65,65" fill="#ccd64e" stroke="#2a62c8" stroke-width="1.4" stroke-linejoin="round"/><polygon points="110,75 130,72 132,87 114,89" fill="#302c30" stroke="#2a62c8" stroke-width="1.4" stroke-linejoin="round"/><polygon points="135,70 170,70 210,75 215,100 190,115 150,115 135,95" fill="#3cc64c" stroke="#2a62c8" stroke-width="1.4" stroke-linejoin="round"/><polygon points="147,95 172,95 175,110 152,112" fill="#302c30" stroke="#2a62c8" stroke-width="1.4" stroke-linejoin="round"/><polygon points="210,75 235,72 270,75 275,120 250,130 235,115 220,100" fill="#c2d046" stroke="#2a62c8" stroke-width="1.4" stroke-linejoin="round"/><polygon points="15,90 50,77 70,87 75,117 60,135 35,137 15,120" fill="#cabc3c" stroke="#2a62c8" stroke-width="1.4" stroke-linejoin="round"/><polygon points="75,87 120,87 132,110 115,130 85,127 72,112" fill="#c2d046" stroke="#2a62c8" stroke-width="1.4" stroke-linejoin="round"/><polygon points="105,107 150,112 160,132 145,137 110,132" fill="#ccd64e" stroke="#2a62c8" stroke-width="1.4" stroke-linejoin="round"/><polygon points="160,120 200,120 210,137 155,137" fill="#c2d046" stroke="#2a62c8" stroke-width="1.4" stroke-linejoin="round"/><polygon points="200,105 235,107 240,130 210,137" fill="#3cc64c" stroke="#2a62c8" stroke-width="1.4" stroke-linejoin="round"/><polygon points="20,115 40,115 45,132 25,137" fill="#42c2e0" stroke="#2a62c8" stroke-width="1.4" stroke-linejoin="round"/><polygon points="28,140 50,140 55,155 33,160" fill="#42c2e0" stroke="#2a62c8" stroke-width="1.4" stroke-linejoin="round"/><polygon points="466,-4 554,-4 554,118 530,118 496,107 481,100 476,65 470,30" fill="#3a393e"/><polygon points="308,7 348,5 353,30 326,37 308,27" fill="#3cc64c" stroke="#2a62c8" stroke-width="1.4" stroke-linejoin="round"/><polygon points="296,35 321,32 336,47 306,57 293,50" fill="#3cc64c" stroke="#2a62c8" stroke-width="1.4" stroke-linejoin="round"/><polygon points="351,7 416,10 451,25 463,50 456,65 426,62 403,40 366,40 351,25" fill="#d8c644" stroke="#2a62c8" stroke-width="1.4" stroke-linejoin="round"/><polygon points="456,12 486,12 488,30 458,30" fill="#3cc64c" stroke="#2a62c8" stroke-width="1.4" stroke-linejoin="round"/><polygon points="483,50 516,55 518,67 486,62" fill="#42c2e0" stroke="#2a62c8" stroke-width="1.4" stroke-linejoin="round"/><polygon points="526,65 546,67 546,80 528,77" fill="#42c2e0" stroke="#2a62c8" stroke-width="1.4" stroke-linejoin="round"/><polygon points="341,40 391,42 396,62 376,67 346,57" fill="#c2d046" stroke="#2a62c8" stroke-width="1.4" stroke-linejoin="round"/><polygon points="403,25 426,25 448,50 441,67 418,65 403,42" fill="#c2d046" stroke="#2a62c8" stroke-width="1.4" stroke-linejoin="round"/><polygon points="286,55 331,50 338,67 326,87 291,90 281,70" fill="#ccd64e" stroke="#2a62c8" stroke-width="1.4" stroke-linejoin="round"/><polygon points="276,42 291,50 293,65 276,67" fill="#c2d046" stroke="#2a62c8" stroke-width="1.4" stroke-linejoin="round"/><polygon points="326,62 366,60 371,87 358,105 328,105 321,85" fill="#c2d046" stroke="#2a62c8" stroke-width="1.4" stroke-linejoin="round"/><polygon points="441,67 483,70 481,80 446,82" fill="#3cc64c" stroke="#2a62c8" stroke-width="1.4" stroke-linejoin="round"/><polygon points="368,82 411,70 433,75 431,95 406,107 371,105" fill="#d8c644" stroke="#2a62c8" stroke-width="1.4" stroke-linejoin="round"/><polygon points="438,85 468,82 478,100 466,112 441,110" fill="#c2d046" stroke="#2a62c8" stroke-width="1.4" stroke-linejoin="round"/><polygon points="276,77 296,87 298,105 276,110" fill="#c2d046" stroke="#2a62c8" stroke-width="1.4" stroke-linejoin="round"/><polygon points="296,90 326,87 338,112 338,137 314,145 294,130 291,110" fill="#3cc64c" stroke="#2a62c8" stroke-width="1.4" stroke-linejoin="round"/><polygon points="274,107 289,107 299,130 304,150 284,150 274,140" fill="#3cc64c" stroke="#2a62c8" stroke-width="1.4" stroke-linejoin="round"/><polygon points="336,107 416,107 421,120 376,125 336,122" fill="#c2d046" stroke="#2a62c8" stroke-width="1.4" stroke-linejoin="round"/><polygon points="421,102 446,102 456,122 441,135 421,127" fill="#c2d046" stroke="#2a62c8" stroke-width="1.4" stroke-linejoin="round"/><polygon points="388,125 414,125 434,142 424,155 394,155 384,140" fill="#ccd64e" stroke="#2a62c8" stroke-width="1.4" stroke-linejoin="round"/><polygon points="443,117 491,110 536,120 548,140 534,162 494,172 459,170 440,145" fill="#d8ae42" stroke="#2a62c8" stroke-width="1.4" stroke-linejoin="round"/><polygon points="85,135 130,130 135,165 125,185 105,190 90,175 80,155" fill="#d0c23e" stroke="#2a62c8" stroke-width="1.4" stroke-linejoin="round"/><polygon points="45,145 85,150 100,170 80,185 55,175" fill="#c2d046" stroke="#2a62c8" stroke-width="1.4" stroke-linejoin="round"/><polygon points="135,135 165,140 175,160 155,180 135,170" fill="#ccd64e" stroke="#2a62c8" stroke-width="1.4" stroke-linejoin="round"/><polygon points="150,175 215,170 225,200 170,215 150,200" fill="#d4d24a" stroke="#2a62c8" stroke-width="1.4" stroke-linejoin="round"/><polygon points="180,150 215,155 220,175 190,175" fill="#3cc64c" stroke="#2a62c8" stroke-width="1.4" stroke-linejoin="round"/><polygon points="-4,155 25,163 55,190 75,207 82,222 65,237 30,247 10,267 -4,272" fill="#d8ae42" stroke="#2a62c8" stroke-width="1.4" stroke-linejoin="round"/><polygon points="215,130 248,125 275,150 292,175 290,215 245,215 220,185" fill="#dcb842" stroke="#2a62c8" stroke-width="1.4" stroke-linejoin="round"/><polygon points="290,150 340,140 410,150 425,175 414,215 380,226 340,226 300,210 290,180" fill="#d88c42" stroke="#2a62c8" stroke-width="1.4" stroke-linejoin="round"/><polygon points="336,165 351,165 351,175 339,175" fill="#42c2e0" stroke="#2a62c8" stroke-width="1.4" stroke-linejoin="round"/><polygon points="410,180 480,172 510,190 505,230 480,247 444,250 419,232 412,205" fill="#d8ae42" stroke="#2a62c8" stroke-width="1.4" stroke-linejoin="round"/><polygon points="495,188 520,185 520,262 499,262 488,247" fill="#ccc846" stroke="#2a62c8" stroke-width="1.4" stroke-linejoin="round"/><polygon points="519,172 554,168 554,282 519,272" fill="#8a8684" stroke="#2a62c8" stroke-width="1.4" stroke-linejoin="round"/><polygon points="105,195 150,190 170,215 130,230 100,220" fill="#c2d046" stroke="#2a62c8" stroke-width="1.4" stroke-linejoin="round"/><polygon points="108,207 165,207 165,227 130,227 112,222" fill="#c2d046" stroke="#2a62c8" stroke-width="1.4" stroke-linejoin="round"/><polygon points="65,229 100,227 105,244 75,252" fill="#3cc64c" stroke="#2a62c8" stroke-width="1.4" stroke-linejoin="round"/><polygon points="90,232 130,224 137,239 110,257 87,254" fill="#ccd64e" stroke="#2a62c8" stroke-width="1.4" stroke-linejoin="round"/><polygon points="135,225 165,225 170,248 140,252" fill="#3cc64c" stroke="#2a62c8" stroke-width="1.4" stroke-linejoin="round"/><polygon points="165,215 240,205 290,225 340,250 360,275 364,292 349,304 314,297 250,290 200,280 170,255" fill="#d88c42" stroke="#2a62c8" stroke-width="1.4" stroke-linejoin="round"/><polygon points="287,208 319,208 336,222 334,244 314,242 294,227" fill="#c2d046" stroke="#2a62c8" stroke-width="1.4" stroke-linejoin="round"/><polygon points="349,232 399,227 449,242 474,262 479,292 449,304 399,304 369,297 359,272 344,252" fill="#d8ae42" stroke="#2a62c8" stroke-width="1.4" stroke-linejoin="round"/><polygon points="394,284 444,282 446,304 396,307" fill="#c2d046" stroke="#2a62c8" stroke-width="1.4" stroke-linejoin="round"/><polygon points="459,250 499,262 544,272 554,327 514,332 489,312 479,292 466,267" fill="#42c2e0" stroke="#2a62c8" stroke-width="1.4" stroke-linejoin="round"/><polygon points="489,282 529,287 529,312 494,312" fill="#3cc64c" stroke="#2a62c8" stroke-width="1.4" stroke-linejoin="round"/><polygon points="462,262 485,262 490,282 466,280" fill="#3cc64c" stroke="#2a62c8" stroke-width="1.4" stroke-linejoin="round"/><polygon points="-4,272 30,257 75,247 100,257 60,282 30,307 -4,327" fill="#8e8c8a" stroke="#2a62c8" stroke-width="1.4" stroke-linejoin="round"/><polygon points="-4,327 30,318 50,352 20,342 -4,345" fill="#8e8c8a" stroke="#2a62c8" stroke-width="1.4" stroke-linejoin="round"/><polygon points="-4,332 35,307 75,277 110,252 145,250 200,265 275,277 275,290 225,294 165,307 140,337 145,372 165,387 125,397 95,392 75,362 50,352 20,342" fill="#cc3e36" stroke="#2a62c8" stroke-width="1.4" stroke-linejoin="round"/><polygon points="162,277 177,274 185,294 170,302 162,292" fill="#3cc64c" stroke="#2a62c8" stroke-width="1.4" stroke-linejoin="round"/><polygon points="45,332 70,327 77,344 60,354 47,349" fill="#3cc64c" stroke="#2a62c8" stroke-width="1.4" stroke-linejoin="round"/><polygon points="30,342 65,347 70,362 30,362" fill="#42c2e0" stroke="#2a62c8" stroke-width="1.4" stroke-linejoin="round"/><polygon points="145,307 190,297 275,292 300,300 306,307 300,330 275,342 235,347 215,367 175,377 135,357" fill="#d88c42" stroke="#2a62c8" stroke-width="1.4" stroke-linejoin="round"/><polygon points="215,317 260,312 285,317 290,335 260,350 220,357 210,342" fill="#d4dc4c" stroke="#2a62c8" stroke-width="1.4" stroke-linejoin="round"/><polygon points="299,302 329,307 346,327 339,339 309,334 294,322" fill="#c2d046" stroke="#2a62c8" stroke-width="1.4" stroke-linejoin="round"/><polygon points="331,302 359,302 366,322 349,329 334,319" fill="#3cc64c" stroke="#2a62c8" stroke-width="1.4" stroke-linejoin="round"/><polygon points="364,307 414,304 474,312 509,329 494,347 464,362 449,377 424,387 399,382 374,367 357,347 359,322" fill="#d88c42" stroke="#2a62c8" stroke-width="1.4" stroke-linejoin="round"/><polygon points="350,322 362,322 362,345 350,345" fill="#42c2e0" stroke="#2a62c8" stroke-width="1.4" stroke-linejoin="round"/><polygon points="215,367 275,350 309,342 334,357 341,382 339,419 215,419 210,392" fill="#d88c42" stroke="#2a62c8" stroke-width="1.4" stroke-linejoin="round"/><polygon points="339,337 364,337 399,372 419,397 414,419 344,419" fill="#8e8a88" stroke="#2a62c8" stroke-width="1.4" stroke-linejoin="round"/><polygon points="354,367 389,367 396,392 374,404 359,397" fill="#ccd64e" stroke="#2a62c8" stroke-width="1.4" stroke-linejoin="round"/><polygon points="421,382 464,382 479,402 469,419 419,419" fill="#c2d046" stroke="#2a62c8" stroke-width="1.4" stroke-linejoin="round"/><polygon points="474,347 509,337 554,327 554,377 519,392 484,382" fill="#d2cc44" stroke="#2a62c8" stroke-width="1.4" stroke-linejoin="round"/><polygon points="484,392 514,392 514,419 479,419" fill="#3cc64c" stroke="#2a62c8" stroke-width="1.4" stroke-linejoin="round"/><polygon points="519,377 554,372 554,419 514,419" fill="#c8c4c4" stroke="#2a62c8" stroke-width="1.4" stroke-linejoin="round"/><polygon points="5,364 65,362 80,387 70,404 10,404 2,387" fill="#dccc44" stroke="#2a62c8" stroke-width="1.4" stroke-linejoin="round"/><polygon points="-4,345 20,345 25,360 -4,365" fill="#8e8c8a" stroke="#2a62c8" stroke-width="1.4" stroke-linejoin="round"/><polygon points="177,392 205,389 210,407 180,412" fill="#3cc64c" stroke="#2a62c8" stroke-width="1.4" stroke-linejoin="round"/><polygon points="80,395 175,390 175,419 80,419" fill="#9a9898" stroke="#2a62c8" stroke-width="1.4" stroke-linejoin="round"/><polygon points="130,372 150,375 160,390 130,392" fill="#42c2e0" stroke="#2a62c8" stroke-width="1.4" stroke-linejoin="round"/><polygon points="-4,404 80,404 80,419 -4,419" fill="#9a9898" stroke="#2a62c8" stroke-width="1.4" stroke-linejoin="round"/></g></g></g>
</svg>
</body></html>
